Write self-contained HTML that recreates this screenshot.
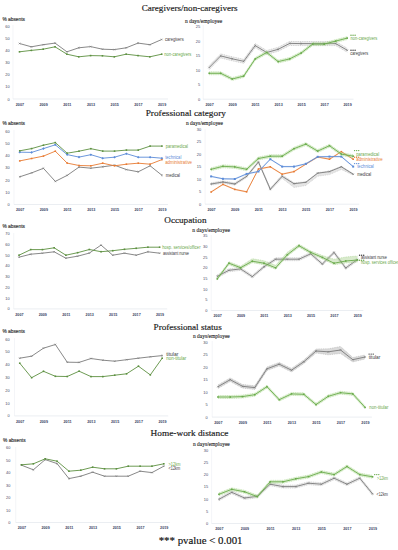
<!DOCTYPE html>
<html><head><meta charset="utf-8"><title>Absenteeism trends</title>
<style>html,body{margin:0;padding:0;background:#fff;width:398px;height:550px;overflow:hidden}svg{display:block}</style>
</head><body>
<svg width="398" height="550" viewBox="0 0 398 550">
<rect width="398" height="550" fill="#fff"/>
<text x="141.7" y="7.7" font-family="Liberation Serif" font-size="8.65" fill="#1a1a1a" stroke="#1a1a1a" stroke-width="0.16" dominant-baseline="central" textLength="95.9" lengthAdjust="spacingAndGlyphs">Caregivers/non-caregivers</text>
<text x="145.7" y="113.4" font-family="Liberation Serif" font-size="8.65" fill="#1a1a1a" stroke="#1a1a1a" stroke-width="0.16" dominant-baseline="central" textLength="80.2" lengthAdjust="spacingAndGlyphs">Professional category</text>
<text x="164.3" y="220.3" font-family="Liberation Serif" font-size="8.65" fill="#1a1a1a" stroke="#1a1a1a" stroke-width="0.16" dominant-baseline="central" textLength="42.2" lengthAdjust="spacingAndGlyphs">Occupation</text>
<text x="153.6" y="326.7" font-family="Liberation Serif" font-size="8.65" fill="#1a1a1a" stroke="#1a1a1a" stroke-width="0.16" dominant-baseline="central" textLength="68.1" lengthAdjust="spacingAndGlyphs">Professional status</text>
<text x="150.6" y="433.2" font-family="Liberation Serif" font-size="8.65" fill="#1a1a1a" stroke="#1a1a1a" stroke-width="0.16" dominant-baseline="central" textLength="77.8" lengthAdjust="spacingAndGlyphs">Home-work distance</text>
<line x1="13" y1="25" x2="13" y2="99" stroke="#eceef3" stroke-width="0.6"/>
<line x1="13" y1="99" x2="168" y2="99" stroke="#e3e6ec" stroke-width="0.7"/>
<text x="9.6" y="99" font-family="Liberation Sans" font-size="3.9" font-weight="normal" font-style="normal" fill="#3f4862" text-anchor="end" dominant-baseline="central">0</text>
<text x="9.6" y="86.95" font-family="Liberation Sans" font-size="3.9" font-weight="normal" font-style="normal" fill="#3f4862" text-anchor="end" dominant-baseline="central">10</text>
<text x="9.6" y="74.9" font-family="Liberation Sans" font-size="3.9" font-weight="normal" font-style="normal" fill="#3f4862" text-anchor="end" dominant-baseline="central">20</text>
<text x="9.6" y="62.85" font-family="Liberation Sans" font-size="3.9" font-weight="normal" font-style="normal" fill="#3f4862" text-anchor="end" dominant-baseline="central">30</text>
<text x="9.6" y="50.8" font-family="Liberation Sans" font-size="3.9" font-weight="normal" font-style="normal" fill="#3f4862" text-anchor="end" dominant-baseline="central">40</text>
<text x="9.6" y="38.75" font-family="Liberation Sans" font-size="3.9" font-weight="normal" font-style="normal" fill="#3f4862" text-anchor="end" dominant-baseline="central">50</text>
<text x="9.6" y="26.7" font-family="Liberation Sans" font-size="3.9" font-weight="normal" font-style="normal" fill="#3f4862" text-anchor="end" dominant-baseline="central">60</text>
<text x="15.8" y="104.6" font-family="Liberation Sans" font-size="3.7" font-weight="bold" fill="#35405e" dominant-baseline="central" textLength="8.2" lengthAdjust="spacingAndGlyphs">2007</text>
<text x="39.5" y="104.6" font-family="Liberation Sans" font-size="3.7" font-weight="bold" fill="#35405e" dominant-baseline="central" textLength="8.2" lengthAdjust="spacingAndGlyphs">2009</text>
<text x="63.2" y="104.6" font-family="Liberation Sans" font-size="3.7" font-weight="bold" fill="#35405e" dominant-baseline="central" textLength="8.2" lengthAdjust="spacingAndGlyphs">2011</text>
<text x="86.9" y="104.6" font-family="Liberation Sans" font-size="3.7" font-weight="bold" fill="#35405e" dominant-baseline="central" textLength="8.2" lengthAdjust="spacingAndGlyphs">2013</text>
<text x="110.6" y="104.6" font-family="Liberation Sans" font-size="3.7" font-weight="bold" fill="#35405e" dominant-baseline="central" textLength="8.2" lengthAdjust="spacingAndGlyphs">2015</text>
<text x="134.3" y="104.6" font-family="Liberation Sans" font-size="3.7" font-weight="bold" fill="#35405e" dominant-baseline="central" textLength="8.2" lengthAdjust="spacingAndGlyphs">2017</text>
<text x="158" y="104.6" font-family="Liberation Sans" font-size="3.7" font-weight="bold" fill="#35405e" dominant-baseline="central" textLength="8.2" lengthAdjust="spacingAndGlyphs">2019</text>
<text x="2.4" y="19" font-family="Liberation Sans" font-size="4.9" fill="#333" stroke="#333" stroke-width="0.15" dominant-baseline="central" textLength="22.6" lengthAdjust="spacingAndGlyphs">% absents</text>
<polyline points="19.5,43.5 31.35,46.8 43.2,44.7 55.05,43.1 66.9,51.8 78.75,47.8 90.6,46.6 102.45,49.2 114.3,49.6 126.15,47.8 138,43.1 149.85,44.7 161.7,39.5" fill="none" stroke="#7a7a7a" stroke-width="0.9" stroke-linejoin="round" opacity="1.0"/>
<path d="M18.7,42.7L20.3,44.3M18.7,44.3L20.3,42.7" stroke="#7a7a7a" stroke-width="0.6"/>
<path d="M30.55,46L32.15,47.6M30.55,47.6L32.15,46" stroke="#7a7a7a" stroke-width="0.6"/>
<path d="M42.4,43.9L44,45.5M42.4,45.5L44,43.9" stroke="#7a7a7a" stroke-width="0.6"/>
<path d="M54.25,42.3L55.85,43.9M54.25,43.9L55.85,42.3" stroke="#7a7a7a" stroke-width="0.6"/>
<path d="M66.1,51L67.7,52.6M66.1,52.6L67.7,51" stroke="#7a7a7a" stroke-width="0.6"/>
<path d="M77.95,47L79.55,48.6M77.95,48.6L79.55,47" stroke="#7a7a7a" stroke-width="0.6"/>
<path d="M89.8,45.8L91.4,47.4M89.8,47.4L91.4,45.8" stroke="#7a7a7a" stroke-width="0.6"/>
<path d="M101.65,48.4L103.25,50M101.65,50L103.25,48.4" stroke="#7a7a7a" stroke-width="0.6"/>
<path d="M113.5,48.8L115.1,50.4M113.5,50.4L115.1,48.8" stroke="#7a7a7a" stroke-width="0.6"/>
<path d="M125.35,47L126.95,48.6M125.35,48.6L126.95,47" stroke="#7a7a7a" stroke-width="0.6"/>
<path d="M137.2,42.3L138.8,43.9M137.2,43.9L138.8,42.3" stroke="#7a7a7a" stroke-width="0.6"/>
<path d="M149.05,43.9L150.65,45.5M149.05,45.5L150.65,43.9" stroke="#7a7a7a" stroke-width="0.6"/>
<path d="M160.9,38.7L162.5,40.3M160.9,40.3L162.5,38.7" stroke="#7a7a7a" stroke-width="0.6"/>
<polyline points="19.5,51.8 31.35,50.4 43.2,49.2 55.05,46.8 66.9,54.2 78.75,56.8 90.6,55.6 102.45,55.8 114.3,56.8 126.15,54.2 138,55.6 149.85,56.8 161.7,54.2" fill="none" stroke="#5c9040" stroke-width="0.9" stroke-linejoin="round" opacity="1.0"/>
<rect x="18.7" y="51" width="1.6" height="1.6" fill="#5c9040"/>
<rect x="30.55" y="49.6" width="1.6" height="1.6" fill="#5c9040"/>
<rect x="42.4" y="48.4" width="1.6" height="1.6" fill="#5c9040"/>
<rect x="54.25" y="46" width="1.6" height="1.6" fill="#5c9040"/>
<rect x="66.1" y="53.4" width="1.6" height="1.6" fill="#5c9040"/>
<rect x="77.95" y="56" width="1.6" height="1.6" fill="#5c9040"/>
<rect x="89.8" y="54.8" width="1.6" height="1.6" fill="#5c9040"/>
<rect x="101.65" y="55" width="1.6" height="1.6" fill="#5c9040"/>
<rect x="113.5" y="56" width="1.6" height="1.6" fill="#5c9040"/>
<rect x="125.35" y="53.4" width="1.6" height="1.6" fill="#5c9040"/>
<rect x="137.2" y="54.8" width="1.6" height="1.6" fill="#5c9040"/>
<rect x="149.05" y="56" width="1.6" height="1.6" fill="#5c9040"/>
<rect x="160.9" y="53.4" width="1.6" height="1.6" fill="#5c9040"/>
<text x="165.1" y="39.4" font-family="Liberation Sans" font-size="4.5" fill="#3a3a3a" dominant-baseline="central" textLength="18.6" lengthAdjust="spacingAndGlyphs">caregivers</text>
<text x="164.2" y="54.6" font-family="Liberation Sans" font-size="4.5" fill="#6aa84a" dominant-baseline="central" textLength="27.2" lengthAdjust="spacingAndGlyphs">non-caregivers</text>
<line x1="203.2" y1="25" x2="203.2" y2="99.2" stroke="#eceef3" stroke-width="0.6"/>
<line x1="203.2" y1="99.2" x2="353.5" y2="99.2" stroke="#e3e6ec" stroke-width="0.7"/>
<text x="200.2" y="99.2" font-family="Liberation Sans" font-size="3.9" font-weight="normal" font-style="normal" fill="#3f4862" text-anchor="end" dominant-baseline="central">0</text>
<text x="200.2" y="84.7" font-family="Liberation Sans" font-size="3.9" font-weight="normal" font-style="normal" fill="#3f4862" text-anchor="end" dominant-baseline="central">5</text>
<text x="200.2" y="70.2" font-family="Liberation Sans" font-size="3.9" font-weight="normal" font-style="normal" fill="#3f4862" text-anchor="end" dominant-baseline="central">10</text>
<text x="200.2" y="55.7" font-family="Liberation Sans" font-size="3.9" font-weight="normal" font-style="normal" fill="#3f4862" text-anchor="end" dominant-baseline="central">15</text>
<text x="200.2" y="41.2" font-family="Liberation Sans" font-size="3.9" font-weight="normal" font-style="normal" fill="#3f4862" text-anchor="end" dominant-baseline="central">20</text>
<text x="200.2" y="26.7" font-family="Liberation Sans" font-size="3.9" font-weight="normal" font-style="normal" fill="#3f4862" text-anchor="end" dominant-baseline="central">25</text>
<text x="205.5" y="104.6" font-family="Liberation Sans" font-size="3.7" font-weight="bold" fill="#35405e" dominant-baseline="central" textLength="8.2" lengthAdjust="spacingAndGlyphs">2007</text>
<text x="228.5" y="104.6" font-family="Liberation Sans" font-size="3.7" font-weight="bold" fill="#35405e" dominant-baseline="central" textLength="8.2" lengthAdjust="spacingAndGlyphs">2009</text>
<text x="251.5" y="104.6" font-family="Liberation Sans" font-size="3.7" font-weight="bold" fill="#35405e" dominant-baseline="central" textLength="8.2" lengthAdjust="spacingAndGlyphs">2011</text>
<text x="274.5" y="104.6" font-family="Liberation Sans" font-size="3.7" font-weight="bold" fill="#35405e" dominant-baseline="central" textLength="8.2" lengthAdjust="spacingAndGlyphs">2013</text>
<text x="297.5" y="104.6" font-family="Liberation Sans" font-size="3.7" font-weight="bold" fill="#35405e" dominant-baseline="central" textLength="8.2" lengthAdjust="spacingAndGlyphs">2015</text>
<text x="320.5" y="104.6" font-family="Liberation Sans" font-size="3.7" font-weight="bold" fill="#35405e" dominant-baseline="central" textLength="8.2" lengthAdjust="spacingAndGlyphs">2017</text>
<text x="343.5" y="104.6" font-family="Liberation Sans" font-size="3.7" font-weight="bold" fill="#35405e" dominant-baseline="central" textLength="8.2" lengthAdjust="spacingAndGlyphs">2019</text>
<text x="185" y="21" font-family="Liberation Serif" font-size="5.5" fill="#2a2a2a" stroke="#2a2a2a" stroke-width="0.12" dominant-baseline="central" textLength="37.2" lengthAdjust="spacingAndGlyphs">n days/employee</text>
<polygon points="209.2,65.5 220.7,53.9 232.2,56.8 243.7,59.3 255.2,43.6 266.7,50.5 278.2,47.3 289.7,41.4 301.2,41.6 312.7,41.6 324.2,41.6 335.7,41.6 347.2,48.2 347.2,52.2 335.7,45.6 324.2,45.6 312.7,45.6 301.2,45.6 289.7,45.4 278.2,51.3 266.7,54.5 255.2,47.6 243.7,63.3 232.2,60.8 220.7,57.9 209.2,69.5" fill="#b0b0b0" fill-opacity="0.25" stroke="none"/>
<polyline points="209.2,65.5 220.7,53.9 232.2,56.8 243.7,59.3 255.2,43.6 266.7,50.5 278.2,47.3 289.7,41.4 301.2,41.6 312.7,41.6 324.2,41.6 335.7,41.6 347.2,48.2" fill="none" stroke="#a8a8a8" stroke-width="0.5" stroke-linejoin="round" opacity="1.0" stroke-dasharray="1,0.8"/>
<polyline points="209.2,69.5 220.7,57.9 232.2,60.8 243.7,63.3 255.2,47.6 266.7,54.5 278.2,51.3 289.7,45.4 301.2,45.6 312.7,45.6 324.2,45.6 335.7,45.6 347.2,52.2" fill="none" stroke="#a8a8a8" stroke-width="0.5" stroke-linejoin="round" opacity="1.0" stroke-dasharray="1,0.8"/>
<polyline points="209.2,67.5 220.7,55.9 232.2,58.8 243.7,61.3 255.2,45.6 266.7,52.5 278.2,49.3 289.7,43.4 301.2,43.6 312.7,43.6 324.2,43.6 335.7,43.6 347.2,50.2" fill="none" stroke="#7a7a7a" stroke-width="0.9" stroke-linejoin="round" opacity="1.0"/>
<path d="M208.4,66.7L210,68.3M208.4,68.3L210,66.7" stroke="#7a7a7a" stroke-width="0.6"/>
<path d="M219.9,55.1L221.5,56.7M219.9,56.7L221.5,55.1" stroke="#7a7a7a" stroke-width="0.6"/>
<path d="M231.4,58L233,59.6M231.4,59.6L233,58" stroke="#7a7a7a" stroke-width="0.6"/>
<path d="M242.9,60.5L244.5,62.1M242.9,62.1L244.5,60.5" stroke="#7a7a7a" stroke-width="0.6"/>
<path d="M254.4,44.8L256,46.4M254.4,46.4L256,44.8" stroke="#7a7a7a" stroke-width="0.6"/>
<path d="M265.9,51.7L267.5,53.3M265.9,53.3L267.5,51.7" stroke="#7a7a7a" stroke-width="0.6"/>
<path d="M277.4,48.5L279,50.1M277.4,50.1L279,48.5" stroke="#7a7a7a" stroke-width="0.6"/>
<path d="M288.9,42.6L290.5,44.2M288.9,44.2L290.5,42.6" stroke="#7a7a7a" stroke-width="0.6"/>
<path d="M300.4,42.8L302,44.4M300.4,44.4L302,42.8" stroke="#7a7a7a" stroke-width="0.6"/>
<path d="M311.9,42.8L313.5,44.4M311.9,44.4L313.5,42.8" stroke="#7a7a7a" stroke-width="0.6"/>
<path d="M323.4,42.8L325,44.4M323.4,44.4L325,42.8" stroke="#7a7a7a" stroke-width="0.6"/>
<path d="M334.9,42.8L336.5,44.4M334.9,44.4L336.5,42.8" stroke="#7a7a7a" stroke-width="0.6"/>
<path d="M346.4,49.4L348,51M346.4,51L348,49.4" stroke="#7a7a7a" stroke-width="0.6"/>
<polygon points="209.2,71.8 220.7,71.8 232.2,77.5 243.7,74.6 255.2,57.4 266.7,51 278.2,60.1 289.7,57.4 301.2,51.5 312.7,42.6 324.2,42.6 335.7,39.6 347.2,36.6 347.2,39.6 335.7,42.6 324.2,45.6 312.7,45.6 301.2,54.5 289.7,60.4 278.2,63.1 266.7,54 255.2,60.4 243.7,77.6 232.2,80.5 220.7,74.8 209.2,74.8" fill="#9fd07f" fill-opacity="0.35" stroke="none"/>
<polyline points="209.2,71.8 220.7,71.8 232.2,77.5 243.7,74.6 255.2,57.4 266.7,51 278.2,60.1 289.7,57.4 301.2,51.5 312.7,42.6 324.2,42.6 335.7,39.6 347.2,36.6" fill="none" stroke="#a8d48e" stroke-width="0.5" stroke-linejoin="round" opacity="1.0" stroke-dasharray="1,0.8"/>
<polyline points="209.2,74.8 220.7,74.8 232.2,80.5 243.7,77.6 255.2,60.4 266.7,54 278.2,63.1 289.7,60.4 301.2,54.5 312.7,45.6 324.2,45.6 335.7,42.6 347.2,39.6" fill="none" stroke="#a8d48e" stroke-width="0.5" stroke-linejoin="round" opacity="1.0" stroke-dasharray="1,0.8"/>
<polyline points="209.2,73.3 220.7,73.3 232.2,79 243.7,76.1 255.2,58.9 266.7,52.5 278.2,61.6 289.7,58.9 301.2,53 312.7,44.1 324.2,44.1 335.7,41.1 347.2,38.1" fill="none" stroke="#69aa4b" stroke-width="0.9" stroke-linejoin="round" opacity="1.0"/>
<rect x="208.4" y="72.5" width="1.6" height="1.6" fill="#69aa4b"/>
<rect x="219.9" y="72.5" width="1.6" height="1.6" fill="#69aa4b"/>
<rect x="231.4" y="78.2" width="1.6" height="1.6" fill="#69aa4b"/>
<rect x="242.9" y="75.3" width="1.6" height="1.6" fill="#69aa4b"/>
<rect x="254.4" y="58.1" width="1.6" height="1.6" fill="#69aa4b"/>
<rect x="265.9" y="51.7" width="1.6" height="1.6" fill="#69aa4b"/>
<rect x="277.4" y="60.8" width="1.6" height="1.6" fill="#69aa4b"/>
<rect x="288.9" y="58.1" width="1.6" height="1.6" fill="#69aa4b"/>
<rect x="300.4" y="52.2" width="1.6" height="1.6" fill="#69aa4b"/>
<rect x="311.9" y="43.3" width="1.6" height="1.6" fill="#69aa4b"/>
<rect x="323.4" y="43.3" width="1.6" height="1.6" fill="#69aa4b"/>
<rect x="334.9" y="40.3" width="1.6" height="1.6" fill="#69aa4b"/>
<rect x="346.4" y="37.3" width="1.6" height="1.6" fill="#69aa4b"/>
<circle cx="351" cy="35.3" r="0.72" fill="#6aa84a"/>
<circle cx="353.05" cy="35.3" r="0.72" fill="#6aa84a"/>
<circle cx="355.1" cy="35.3" r="0.72" fill="#6aa84a"/>
<text x="350.6" y="38.6" font-family="Liberation Sans" font-size="4.5" fill="#6aa84a" dominant-baseline="central" textLength="26.7" lengthAdjust="spacingAndGlyphs">non-caregivers</text>
<circle cx="351" cy="50.3" r="0.72" fill="#3a3a3a"/>
<circle cx="353.05" cy="50.3" r="0.72" fill="#3a3a3a"/>
<circle cx="355.1" cy="50.3" r="0.72" fill="#3a3a3a"/>
<text x="350.2" y="53.3" font-family="Liberation Sans" font-size="4.5" fill="#3a3a3a" dominant-baseline="central" textLength="18.1" lengthAdjust="spacingAndGlyphs">caregivers</text>
<line x1="14" y1="130" x2="14" y2="204.5" stroke="#eceef3" stroke-width="0.6"/>
<line x1="14" y1="204.5" x2="168" y2="204.5" stroke="#e3e6ec" stroke-width="0.7"/>
<text x="9.6" y="204.5" font-family="Liberation Sans" font-size="3.9" font-weight="normal" font-style="normal" fill="#3f4862" text-anchor="end" dominant-baseline="central">0</text>
<text x="9.6" y="192.33" font-family="Liberation Sans" font-size="3.9" font-weight="normal" font-style="normal" fill="#3f4862" text-anchor="end" dominant-baseline="central">10</text>
<text x="9.6" y="180.16" font-family="Liberation Sans" font-size="3.9" font-weight="normal" font-style="normal" fill="#3f4862" text-anchor="end" dominant-baseline="central">20</text>
<text x="9.6" y="167.99" font-family="Liberation Sans" font-size="3.9" font-weight="normal" font-style="normal" fill="#3f4862" text-anchor="end" dominant-baseline="central">30</text>
<text x="9.6" y="155.82" font-family="Liberation Sans" font-size="3.9" font-weight="normal" font-style="normal" fill="#3f4862" text-anchor="end" dominant-baseline="central">40</text>
<text x="9.6" y="143.65" font-family="Liberation Sans" font-size="3.9" font-weight="normal" font-style="normal" fill="#3f4862" text-anchor="end" dominant-baseline="central">50</text>
<text x="9.6" y="131.48" font-family="Liberation Sans" font-size="3.9" font-weight="normal" font-style="normal" fill="#3f4862" text-anchor="end" dominant-baseline="central">60</text>
<text x="16.05" y="209.9" font-family="Liberation Sans" font-size="3.7" font-weight="bold" fill="#35405e" dominant-baseline="central" textLength="8.2" lengthAdjust="spacingAndGlyphs">2007</text>
<text x="39.75" y="209.9" font-family="Liberation Sans" font-size="3.7" font-weight="bold" fill="#35405e" dominant-baseline="central" textLength="8.2" lengthAdjust="spacingAndGlyphs">2009</text>
<text x="63.45" y="209.9" font-family="Liberation Sans" font-size="3.7" font-weight="bold" fill="#35405e" dominant-baseline="central" textLength="8.2" lengthAdjust="spacingAndGlyphs">2011</text>
<text x="87.15" y="209.9" font-family="Liberation Sans" font-size="3.7" font-weight="bold" fill="#35405e" dominant-baseline="central" textLength="8.2" lengthAdjust="spacingAndGlyphs">2013</text>
<text x="110.85" y="209.9" font-family="Liberation Sans" font-size="3.7" font-weight="bold" fill="#35405e" dominant-baseline="central" textLength="8.2" lengthAdjust="spacingAndGlyphs">2015</text>
<text x="134.55" y="209.9" font-family="Liberation Sans" font-size="3.7" font-weight="bold" fill="#35405e" dominant-baseline="central" textLength="8.2" lengthAdjust="spacingAndGlyphs">2017</text>
<text x="158.25" y="209.9" font-family="Liberation Sans" font-size="3.7" font-weight="bold" fill="#35405e" dominant-baseline="central" textLength="8.2" lengthAdjust="spacingAndGlyphs">2019</text>
<text x="2.4" y="123.1" font-family="Liberation Sans" font-size="4.9" fill="#333" stroke="#333" stroke-width="0.15" dominant-baseline="central" textLength="22.6" lengthAdjust="spacingAndGlyphs">% absents</text>
<polyline points="19.75,176.8 31.6,172.9 43.45,168.3 55.3,181.4 67.15,175.4 79,167.1 90.85,168.2 102.7,166.8 114.55,165.2 126.4,169.6 138.25,171.8 150.1,165.8 161.95,175.3" fill="none" stroke="#7a7a7a" stroke-width="0.9" stroke-linejoin="round" opacity="1.0"/>
<path d="M18.95,176L20.55,177.6M18.95,177.6L20.55,176" stroke="#7a7a7a" stroke-width="0.6"/>
<path d="M30.8,172.1L32.4,173.7M30.8,173.7L32.4,172.1" stroke="#7a7a7a" stroke-width="0.6"/>
<path d="M42.65,167.5L44.25,169.1M42.65,169.1L44.25,167.5" stroke="#7a7a7a" stroke-width="0.6"/>
<path d="M54.5,180.6L56.1,182.2M54.5,182.2L56.1,180.6" stroke="#7a7a7a" stroke-width="0.6"/>
<path d="M66.35,174.6L67.95,176.2M66.35,176.2L67.95,174.6" stroke="#7a7a7a" stroke-width="0.6"/>
<path d="M78.2,166.3L79.8,167.9M78.2,167.9L79.8,166.3" stroke="#7a7a7a" stroke-width="0.6"/>
<path d="M90.05,167.4L91.65,169M90.05,169L91.65,167.4" stroke="#7a7a7a" stroke-width="0.6"/>
<path d="M101.9,166L103.5,167.6M101.9,167.6L103.5,166" stroke="#7a7a7a" stroke-width="0.6"/>
<path d="M113.75,164.4L115.35,166M113.75,166L115.35,164.4" stroke="#7a7a7a" stroke-width="0.6"/>
<path d="M125.6,168.8L127.2,170.4M125.6,170.4L127.2,168.8" stroke="#7a7a7a" stroke-width="0.6"/>
<path d="M137.45,171L139.05,172.6M137.45,172.6L139.05,171" stroke="#7a7a7a" stroke-width="0.6"/>
<path d="M149.3,165L150.9,166.6M149.3,166.6L150.9,165" stroke="#7a7a7a" stroke-width="0.6"/>
<path d="M161.15,174.5L162.75,176.1M161.15,176.1L162.75,174.5" stroke="#7a7a7a" stroke-width="0.6"/>
<polyline points="19.75,160.9 31.6,158.5 43.45,156.1 55.3,151.2 67.15,163.1 79,165.5 90.85,165.8 102.7,163.2 114.55,165.8 126.4,164.2 138.25,163.2 150.1,164.2 161.95,159.6" fill="none" stroke="#e87a32" stroke-width="0.9" stroke-linejoin="round" opacity="1.0"/>
<rect x="18.95" y="160.1" width="1.6" height="1.6" fill="#e87a32"/>
<rect x="30.8" y="157.7" width="1.6" height="1.6" fill="#e87a32"/>
<rect x="42.65" y="155.3" width="1.6" height="1.6" fill="#e87a32"/>
<rect x="54.5" y="150.4" width="1.6" height="1.6" fill="#e87a32"/>
<rect x="66.35" y="162.3" width="1.6" height="1.6" fill="#e87a32"/>
<rect x="78.2" y="164.7" width="1.6" height="1.6" fill="#e87a32"/>
<rect x="90.05" y="165" width="1.6" height="1.6" fill="#e87a32"/>
<rect x="101.9" y="162.4" width="1.6" height="1.6" fill="#e87a32"/>
<rect x="113.75" y="165" width="1.6" height="1.6" fill="#e87a32"/>
<rect x="125.6" y="163.4" width="1.6" height="1.6" fill="#e87a32"/>
<rect x="137.45" y="162.4" width="1.6" height="1.6" fill="#e87a32"/>
<rect x="149.3" y="163.4" width="1.6" height="1.6" fill="#e87a32"/>
<rect x="161.15" y="158.8" width="1.6" height="1.6" fill="#e87a32"/>
<polyline points="19.75,152.2 31.6,152.4 43.45,148.6 55.3,144.8 67.15,154.6 79,157.1 90.85,154.7 102.7,158.2 114.55,157.2 126.4,153.7 138.25,157.2 150.1,157.2 161.95,158.2" fill="none" stroke="#5b8bd8" stroke-width="0.9" stroke-linejoin="round" opacity="1.0"/>
<polygon points="19.75,150.9 21.05,152.2 19.75,153.5 18.45,152.2" fill="#5b8bd8"/>
<polygon points="31.6,151.1 32.9,152.4 31.6,153.7 30.3,152.4" fill="#5b8bd8"/>
<polygon points="43.45,147.3 44.75,148.6 43.45,149.9 42.15,148.6" fill="#5b8bd8"/>
<polygon points="55.3,143.5 56.6,144.8 55.3,146.1 54,144.8" fill="#5b8bd8"/>
<polygon points="67.15,153.3 68.45,154.6 67.15,155.9 65.85,154.6" fill="#5b8bd8"/>
<polygon points="79,155.8 80.3,157.1 79,158.4 77.7,157.1" fill="#5b8bd8"/>
<polygon points="90.85,153.4 92.15,154.7 90.85,156 89.55,154.7" fill="#5b8bd8"/>
<polygon points="102.7,156.9 104,158.2 102.7,159.5 101.4,158.2" fill="#5b8bd8"/>
<polygon points="114.55,155.9 115.85,157.2 114.55,158.5 113.25,157.2" fill="#5b8bd8"/>
<polygon points="126.4,152.4 127.7,153.7 126.4,155 125.1,153.7" fill="#5b8bd8"/>
<polygon points="138.25,155.9 139.55,157.2 138.25,158.5 136.95,157.2" fill="#5b8bd8"/>
<polygon points="150.1,155.9 151.4,157.2 150.1,158.5 148.8,157.2" fill="#5b8bd8"/>
<polygon points="161.95,156.9 163.25,158.2 161.95,159.5 160.65,158.2" fill="#5b8bd8"/>
<polyline points="19.75,150.8 31.6,148.6 43.45,145.2 55.3,142.6 67.15,153.2 79,151.2 90.85,148.7 102.7,151.1 114.55,151.1 126.4,150.1 138.25,150.1 150.1,146.1 161.95,146.1" fill="none" stroke="#5c9040" stroke-width="0.9" stroke-linejoin="round" opacity="1.0"/>
<rect x="18.95" y="150" width="1.6" height="1.6" fill="#5c9040"/>
<rect x="30.8" y="147.8" width="1.6" height="1.6" fill="#5c9040"/>
<rect x="42.65" y="144.4" width="1.6" height="1.6" fill="#5c9040"/>
<rect x="54.5" y="141.8" width="1.6" height="1.6" fill="#5c9040"/>
<rect x="66.35" y="152.4" width="1.6" height="1.6" fill="#5c9040"/>
<rect x="78.2" y="150.4" width="1.6" height="1.6" fill="#5c9040"/>
<rect x="90.05" y="147.9" width="1.6" height="1.6" fill="#5c9040"/>
<rect x="101.9" y="150.3" width="1.6" height="1.6" fill="#5c9040"/>
<rect x="113.75" y="150.3" width="1.6" height="1.6" fill="#5c9040"/>
<rect x="125.6" y="149.3" width="1.6" height="1.6" fill="#5c9040"/>
<rect x="137.45" y="149.3" width="1.6" height="1.6" fill="#5c9040"/>
<rect x="149.3" y="145.3" width="1.6" height="1.6" fill="#5c9040"/>
<rect x="161.15" y="145.3" width="1.6" height="1.6" fill="#5c9040"/>
<text x="165.8" y="146.1" font-family="Liberation Sans" font-size="4.5" fill="#6aa84a" dominant-baseline="central" textLength="22.2" lengthAdjust="spacingAndGlyphs">paramedical</text>
<text x="165.2" y="157.6" font-family="Liberation Sans" font-size="4.5" fill="#5b8bd8" dominant-baseline="central" textLength="16.1" lengthAdjust="spacingAndGlyphs">technical</text>
<text x="165.2" y="162.2" font-family="Liberation Sans" font-size="4.5" fill="#e87a32" dominant-baseline="central" textLength="26.8" lengthAdjust="spacingAndGlyphs">administrative</text>
<text x="165.8" y="175.3" font-family="Liberation Sans" font-size="4.5" fill="#3a3a3a" dominant-baseline="central" textLength="14.1" lengthAdjust="spacingAndGlyphs">medical</text>
<line x1="205.1" y1="129" x2="205.1" y2="204.2" stroke="#eceef3" stroke-width="0.6"/>
<line x1="205.1" y1="204.2" x2="359.2" y2="204.2" stroke="#e3e6ec" stroke-width="0.7"/>
<text x="201.2" y="204.2" font-family="Liberation Sans" font-size="3.9" font-weight="normal" font-style="normal" fill="#3f4862" text-anchor="end" dominant-baseline="central">0</text>
<text x="201.2" y="191.7" font-family="Liberation Sans" font-size="3.9" font-weight="normal" font-style="normal" fill="#3f4862" text-anchor="end" dominant-baseline="central">5</text>
<text x="201.2" y="179.2" font-family="Liberation Sans" font-size="3.9" font-weight="normal" font-style="normal" fill="#3f4862" text-anchor="end" dominant-baseline="central">10</text>
<text x="201.2" y="166.7" font-family="Liberation Sans" font-size="3.9" font-weight="normal" font-style="normal" fill="#3f4862" text-anchor="end" dominant-baseline="central">15</text>
<text x="201.2" y="154.2" font-family="Liberation Sans" font-size="3.9" font-weight="normal" font-style="normal" fill="#3f4862" text-anchor="end" dominant-baseline="central">20</text>
<text x="201.2" y="141.7" font-family="Liberation Sans" font-size="3.9" font-weight="normal" font-style="normal" fill="#3f4862" text-anchor="end" dominant-baseline="central">25</text>
<text x="201.2" y="129.2" font-family="Liberation Sans" font-size="3.9" font-weight="normal" font-style="normal" fill="#3f4862" text-anchor="end" dominant-baseline="central">30</text>
<text x="207.4" y="209.9" font-family="Liberation Sans" font-size="3.7" font-weight="bold" fill="#35405e" dominant-baseline="central" textLength="8.2" lengthAdjust="spacingAndGlyphs">2007</text>
<text x="231.08" y="209.9" font-family="Liberation Sans" font-size="3.7" font-weight="bold" fill="#35405e" dominant-baseline="central" textLength="8.2" lengthAdjust="spacingAndGlyphs">2009</text>
<text x="254.76" y="209.9" font-family="Liberation Sans" font-size="3.7" font-weight="bold" fill="#35405e" dominant-baseline="central" textLength="8.2" lengthAdjust="spacingAndGlyphs">2011</text>
<text x="278.44" y="209.9" font-family="Liberation Sans" font-size="3.7" font-weight="bold" fill="#35405e" dominant-baseline="central" textLength="8.2" lengthAdjust="spacingAndGlyphs">2013</text>
<text x="302.12" y="209.9" font-family="Liberation Sans" font-size="3.7" font-weight="bold" fill="#35405e" dominant-baseline="central" textLength="8.2" lengthAdjust="spacingAndGlyphs">2015</text>
<text x="325.8" y="209.9" font-family="Liberation Sans" font-size="3.7" font-weight="bold" fill="#35405e" dominant-baseline="central" textLength="8.2" lengthAdjust="spacingAndGlyphs">2017</text>
<text x="349.48" y="209.9" font-family="Liberation Sans" font-size="3.7" font-weight="bold" fill="#35405e" dominant-baseline="central" textLength="8.2" lengthAdjust="spacingAndGlyphs">2019</text>
<text x="186" y="123.4" font-family="Liberation Serif" font-size="5.5" fill="#2a2a2a" stroke="#2a2a2a" stroke-width="0.12" dominant-baseline="central" textLength="37" lengthAdjust="spacingAndGlyphs">n days/employee</text>
<polygon points="211.1,182.8 222.94,180.8 234.78,182.8 246.62,175.2 258.46,160.8 270.3,188.1 282.14,174.8 293.98,182.7 305.82,181.7 317.66,172.6 329.5,171 341.34,166.2 353.18,173.6 353.18,175.2 341.34,169.4 329.5,174.6 317.66,176.2 305.82,185.5 293.98,187.5 282.14,178.3 270.3,190.5 258.46,163.2 246.62,177.6 234.78,185.2 222.94,183.2 211.1,185.2" fill="#a8a8a8" fill-opacity="0.3" stroke="none"/>
<polyline points="211.1,182.8 222.94,180.8 234.78,182.8 246.62,175.2 258.46,160.8 270.3,188.1 282.14,174.8 293.98,182.7 305.82,181.7 317.66,172.6 329.5,171 341.34,166.2 353.18,173.6" fill="none" stroke="#b8b8b8" stroke-width="0.5" stroke-linejoin="round" opacity="1.0" stroke-dasharray="1,0.8"/>
<polyline points="211.1,185.2 222.94,183.2 234.78,185.2 246.62,177.6 258.46,163.2 270.3,190.5 282.14,178.3 293.98,187.5 305.82,185.5 317.66,176.2 329.5,174.6 341.34,169.4 353.18,175.2" fill="none" stroke="#b8b8b8" stroke-width="0.5" stroke-linejoin="round" opacity="1.0" stroke-dasharray="1,0.8"/>
<polyline points="211.1,184 222.94,182 234.78,184 246.62,176.4 258.46,162 270.3,189.3 282.14,176.3 293.98,183.7 305.82,182.3 317.66,173.2 329.5,171.6 341.34,166.8 353.18,174.2" fill="none" stroke="#7a7a7a" stroke-width="0.9" stroke-linejoin="round" opacity="1.0"/>
<path d="M210.3,183.2L211.9,184.8M210.3,184.8L211.9,183.2" stroke="#7a7a7a" stroke-width="0.6"/>
<path d="M222.14,181.2L223.74,182.8M222.14,182.8L223.74,181.2" stroke="#7a7a7a" stroke-width="0.6"/>
<path d="M233.98,183.2L235.58,184.8M233.98,184.8L235.58,183.2" stroke="#7a7a7a" stroke-width="0.6"/>
<path d="M245.82,175.6L247.42,177.2M245.82,177.2L247.42,175.6" stroke="#7a7a7a" stroke-width="0.6"/>
<path d="M257.66,161.2L259.26,162.8M257.66,162.8L259.26,161.2" stroke="#7a7a7a" stroke-width="0.6"/>
<path d="M269.5,188.5L271.1,190.1M269.5,190.1L271.1,188.5" stroke="#7a7a7a" stroke-width="0.6"/>
<path d="M281.34,175.5L282.94,177.1M281.34,177.1L282.94,175.5" stroke="#7a7a7a" stroke-width="0.6"/>
<path d="M293.18,182.9L294.78,184.5M293.18,184.5L294.78,182.9" stroke="#7a7a7a" stroke-width="0.6"/>
<path d="M305.02,181.5L306.62,183.1M305.02,183.1L306.62,181.5" stroke="#7a7a7a" stroke-width="0.6"/>
<path d="M316.86,172.4L318.46,174M316.86,174L318.46,172.4" stroke="#7a7a7a" stroke-width="0.6"/>
<path d="M328.7,170.8L330.3,172.4M328.7,172.4L330.3,170.8" stroke="#7a7a7a" stroke-width="0.6"/>
<path d="M340.54,166L342.14,167.6M340.54,167.6L342.14,166" stroke="#7a7a7a" stroke-width="0.6"/>
<path d="M352.38,173.4L353.98,175M352.38,175L353.98,173.4" stroke="#7a7a7a" stroke-width="0.6"/>
<polygon points="211.1,191.1 222.94,183.5 234.78,188.5 246.62,190.9 258.46,168.1 270.3,165.9 282.14,173.3 293.98,170.7 305.82,163.3 317.66,156.1 329.5,158.3 341.34,150.8 353.18,158.3 353.18,160.1 341.34,152.6 329.5,160.1 317.66,157.9 305.82,165.1 293.98,172.5 282.14,175.1 270.3,167.7 258.46,169.9 246.62,192.7 234.78,190.3 222.94,185.3 211.1,192.9" fill="#f3b488" fill-opacity="0.3" stroke="none"/>
<polyline points="211.1,192 222.94,184.4 234.78,189.4 246.62,191.8 258.46,169 270.3,166.8 282.14,174.2 293.98,171.6 305.82,164.2 317.66,157 329.5,159.2 341.34,151.7 353.18,159.2" fill="none" stroke="#e87a32" stroke-width="0.9" stroke-linejoin="round" opacity="1.0"/>
<rect x="210.3" y="191.2" width="1.6" height="1.6" fill="#e87a32"/>
<rect x="222.14" y="183.6" width="1.6" height="1.6" fill="#e87a32"/>
<rect x="233.98" y="188.6" width="1.6" height="1.6" fill="#e87a32"/>
<rect x="245.82" y="191" width="1.6" height="1.6" fill="#e87a32"/>
<rect x="257.66" y="168.2" width="1.6" height="1.6" fill="#e87a32"/>
<rect x="269.5" y="166" width="1.6" height="1.6" fill="#e87a32"/>
<rect x="281.34" y="173.4" width="1.6" height="1.6" fill="#e87a32"/>
<rect x="293.18" y="170.8" width="1.6" height="1.6" fill="#e87a32"/>
<rect x="305.02" y="163.4" width="1.6" height="1.6" fill="#e87a32"/>
<rect x="316.86" y="156.2" width="1.6" height="1.6" fill="#e87a32"/>
<rect x="328.7" y="158.4" width="1.6" height="1.6" fill="#e87a32"/>
<rect x="340.54" y="150.9" width="1.6" height="1.6" fill="#e87a32"/>
<rect x="352.38" y="158.4" width="1.6" height="1.6" fill="#e87a32"/>
<polygon points="211.1,175.5 222.94,177.9 234.78,178.1 246.62,173 258.46,170.6 270.3,158.3 282.14,165.7 293.98,165.7 305.82,162.9 317.66,155.9 329.5,155.7 341.34,155.7 353.18,165.7 353.18,167.5 341.34,157.5 329.5,157.5 317.66,157.7 305.82,164.7 293.98,167.5 282.14,167.5 270.3,160.1 258.46,172.4 246.62,174.8 234.78,179.9 222.94,179.7 211.1,177.3" fill="#a9c2ec" fill-opacity="0.3" stroke="none"/>
<polyline points="211.1,176.4 222.94,178.8 234.78,179 246.62,173.9 258.46,171.5 270.3,159.2 282.14,166.6 293.98,166.6 305.82,163.8 317.66,156.8 329.5,156.6 341.34,156.6 353.18,166.6" fill="none" stroke="#5b8bd8" stroke-width="0.9" stroke-linejoin="round" opacity="1.0"/>
<rect x="210.1" y="175.4" width="2" height="2" fill="#5b8bd8"/>
<rect x="221.94" y="177.8" width="2" height="2" fill="#5b8bd8"/>
<rect x="233.78" y="178" width="2" height="2" fill="#5b8bd8"/>
<rect x="245.62" y="172.9" width="2" height="2" fill="#5b8bd8"/>
<rect x="257.46" y="170.5" width="2" height="2" fill="#5b8bd8"/>
<rect x="269.3" y="158.2" width="2" height="2" fill="#5b8bd8"/>
<rect x="281.14" y="165.6" width="2" height="2" fill="#5b8bd8"/>
<rect x="292.98" y="165.6" width="2" height="2" fill="#5b8bd8"/>
<rect x="304.82" y="162.8" width="2" height="2" fill="#5b8bd8"/>
<rect x="316.66" y="155.8" width="2" height="2" fill="#5b8bd8"/>
<rect x="328.5" y="155.6" width="2" height="2" fill="#5b8bd8"/>
<rect x="340.34" y="155.6" width="2" height="2" fill="#5b8bd8"/>
<rect x="352.18" y="165.6" width="2" height="2" fill="#5b8bd8"/>
<polygon points="211.1,167.8 222.94,164.8 234.78,165.4 246.62,167.8 258.46,157 270.3,154.7 282.14,154.7 293.98,147.2 305.82,142.6 317.66,149.6 329.5,144.2 341.34,152.6 353.18,154.7 353.18,157.7 341.34,155.6 329.5,147.2 317.66,152.6 305.82,145.6 293.98,150.2 282.14,157.7 270.3,157.7 258.46,160 246.62,170.8 234.78,168.4 222.94,167.8 211.1,170.8" fill="#9fd07f" fill-opacity="0.35" stroke="none"/>
<polyline points="211.1,167.8 222.94,164.8 234.78,165.4 246.62,167.8 258.46,157 270.3,154.7 282.14,154.7 293.98,147.2 305.82,142.6 317.66,149.6 329.5,144.2 341.34,152.6 353.18,154.7" fill="none" stroke="#a8d48e" stroke-width="0.5" stroke-linejoin="round" opacity="1.0" stroke-dasharray="1,0.8"/>
<polyline points="211.1,170.8 222.94,167.8 234.78,168.4 246.62,170.8 258.46,160 270.3,157.7 282.14,157.7 293.98,150.2 305.82,145.6 317.66,152.6 329.5,147.2 341.34,155.6 353.18,157.7" fill="none" stroke="#a8d48e" stroke-width="0.5" stroke-linejoin="round" opacity="1.0" stroke-dasharray="1,0.8"/>
<polyline points="211.1,169.3 222.94,166.3 234.78,166.9 246.62,169.3 258.46,158.5 270.3,156.2 282.14,156.2 293.98,148.7 305.82,144.1 317.66,151.1 329.5,145.7 341.34,154.1 353.18,156.2" fill="none" stroke="#69aa4b" stroke-width="0.9" stroke-linejoin="round" opacity="1.0"/>
<rect x="210.3" y="168.5" width="1.6" height="1.6" fill="#69aa4b"/>
<rect x="222.14" y="165.5" width="1.6" height="1.6" fill="#69aa4b"/>
<rect x="233.98" y="166.1" width="1.6" height="1.6" fill="#69aa4b"/>
<rect x="245.82" y="168.5" width="1.6" height="1.6" fill="#69aa4b"/>
<rect x="257.66" y="157.7" width="1.6" height="1.6" fill="#69aa4b"/>
<rect x="269.5" y="155.4" width="1.6" height="1.6" fill="#69aa4b"/>
<rect x="281.34" y="155.4" width="1.6" height="1.6" fill="#69aa4b"/>
<rect x="293.18" y="147.9" width="1.6" height="1.6" fill="#69aa4b"/>
<rect x="305.02" y="143.3" width="1.6" height="1.6" fill="#69aa4b"/>
<rect x="316.86" y="150.3" width="1.6" height="1.6" fill="#69aa4b"/>
<rect x="328.7" y="144.9" width="1.6" height="1.6" fill="#69aa4b"/>
<rect x="340.54" y="153.3" width="1.6" height="1.6" fill="#69aa4b"/>
<rect x="352.38" y="155.4" width="1.6" height="1.6" fill="#69aa4b"/>
<circle cx="354.6" cy="150.6" r="0.72" fill="#6aa84a"/>
<circle cx="356.65" cy="150.6" r="0.72" fill="#6aa84a"/>
<circle cx="358.7" cy="150.6" r="0.72" fill="#6aa84a"/>
<text x="356.3" y="154.1" font-family="Liberation Sans" font-size="4.5" fill="#6aa84a" dominant-baseline="central" textLength="22.8" lengthAdjust="spacingAndGlyphs">paramedical</text>
<circle cx="354.6" cy="157.2" r="0.72" fill="#e87a32"/>
<circle cx="356.65" cy="157.2" r="0.72" fill="#e87a32"/>
<circle cx="358.7" cy="157.2" r="0.72" fill="#e87a32"/>
<text x="356.3" y="159.4" font-family="Liberation Sans" font-size="4.5" fill="#e87a32" dominant-baseline="central" textLength="26.3" lengthAdjust="spacingAndGlyphs">administrative</text>
<circle cx="354.6" cy="163.6" r="0.72" fill="#5b8bd8"/>
<circle cx="356.65" cy="163.6" r="0.72" fill="#5b8bd8"/>
<circle cx="358.7" cy="163.6" r="0.72" fill="#5b8bd8"/>
<text x="357.2" y="166.8" font-family="Liberation Sans" font-size="4.5" fill="#5b8bd8" dominant-baseline="central" textLength="16.6" lengthAdjust="spacingAndGlyphs">technical</text>
<text x="357.2" y="174.2" font-family="Liberation Sans" font-size="4.5" fill="#3a3a3a" dominant-baseline="central" textLength="14.1" lengthAdjust="spacingAndGlyphs">medical</text>
<line x1="13.7" y1="233" x2="13.7" y2="308.9" stroke="#eceef3" stroke-width="0.6"/>
<line x1="13.7" y1="308.9" x2="167.2" y2="308.9" stroke="#e3e6ec" stroke-width="0.7"/>
<text x="9.6" y="308.9" font-family="Liberation Sans" font-size="3.9" font-weight="normal" font-style="normal" fill="#3f4862" text-anchor="end" dominant-baseline="central">0</text>
<text x="9.6" y="298.16" font-family="Liberation Sans" font-size="3.9" font-weight="normal" font-style="normal" fill="#3f4862" text-anchor="end" dominant-baseline="central">10</text>
<text x="9.6" y="287.42" font-family="Liberation Sans" font-size="3.9" font-weight="normal" font-style="normal" fill="#3f4862" text-anchor="end" dominant-baseline="central">20</text>
<text x="9.6" y="276.68" font-family="Liberation Sans" font-size="3.9" font-weight="normal" font-style="normal" fill="#3f4862" text-anchor="end" dominant-baseline="central">30</text>
<text x="9.6" y="265.94" font-family="Liberation Sans" font-size="3.9" font-weight="normal" font-style="normal" fill="#3f4862" text-anchor="end" dominant-baseline="central">40</text>
<text x="9.6" y="255.2" font-family="Liberation Sans" font-size="3.9" font-weight="normal" font-style="normal" fill="#3f4862" text-anchor="end" dominant-baseline="central">50</text>
<text x="9.6" y="244.46" font-family="Liberation Sans" font-size="3.9" font-weight="normal" font-style="normal" fill="#3f4862" text-anchor="end" dominant-baseline="central">60</text>
<text x="9.6" y="233.72" font-family="Liberation Sans" font-size="3.9" font-weight="normal" font-style="normal" fill="#3f4862" text-anchor="end" dominant-baseline="central">70</text>
<text x="15.3" y="314.7" font-family="Liberation Sans" font-size="3.7" font-weight="bold" fill="#35405e" dominant-baseline="central" textLength="8.2" lengthAdjust="spacingAndGlyphs">2007</text>
<text x="38.74" y="314.7" font-family="Liberation Sans" font-size="3.7" font-weight="bold" fill="#35405e" dominant-baseline="central" textLength="8.2" lengthAdjust="spacingAndGlyphs">2009</text>
<text x="62.18" y="314.7" font-family="Liberation Sans" font-size="3.7" font-weight="bold" fill="#35405e" dominant-baseline="central" textLength="8.2" lengthAdjust="spacingAndGlyphs">2011</text>
<text x="85.62" y="314.7" font-family="Liberation Sans" font-size="3.7" font-weight="bold" fill="#35405e" dominant-baseline="central" textLength="8.2" lengthAdjust="spacingAndGlyphs">2013</text>
<text x="109.06" y="314.7" font-family="Liberation Sans" font-size="3.7" font-weight="bold" fill="#35405e" dominant-baseline="central" textLength="8.2" lengthAdjust="spacingAndGlyphs">2015</text>
<text x="132.5" y="314.7" font-family="Liberation Sans" font-size="3.7" font-weight="bold" fill="#35405e" dominant-baseline="central" textLength="8.2" lengthAdjust="spacingAndGlyphs">2017</text>
<text x="155.94" y="314.7" font-family="Liberation Sans" font-size="3.7" font-weight="bold" fill="#35405e" dominant-baseline="central" textLength="8.2" lengthAdjust="spacingAndGlyphs">2019</text>
<text x="2.4" y="226.7" font-family="Liberation Sans" font-size="4.9" fill="#333" stroke="#333" stroke-width="0.15" dominant-baseline="central" textLength="22.6" lengthAdjust="spacingAndGlyphs">% absents</text>
<polyline points="19,257.2 30.72,254.2 42.44,253.2 54.16,251.8 65.88,258.2 77.6,256.2 89.32,253.1 101.04,245.1 112.76,255.2 124.48,253.2 136.2,255.2 147.92,251.8 159.64,253.2" fill="none" stroke="#7a7a7a" stroke-width="0.9" stroke-linejoin="round" opacity="1.0"/>
<path d="M18.2,256.4L19.8,258M18.2,258L19.8,256.4" stroke="#7a7a7a" stroke-width="0.6"/>
<path d="M29.92,253.4L31.52,255M29.92,255L31.52,253.4" stroke="#7a7a7a" stroke-width="0.6"/>
<path d="M41.64,252.4L43.24,254M41.64,254L43.24,252.4" stroke="#7a7a7a" stroke-width="0.6"/>
<path d="M53.36,251L54.96,252.6M53.36,252.6L54.96,251" stroke="#7a7a7a" stroke-width="0.6"/>
<path d="M65.08,257.4L66.68,259M65.08,259L66.68,257.4" stroke="#7a7a7a" stroke-width="0.6"/>
<path d="M76.8,255.4L78.4,257M76.8,257L78.4,255.4" stroke="#7a7a7a" stroke-width="0.6"/>
<path d="M88.52,252.3L90.12,253.9M88.52,253.9L90.12,252.3" stroke="#7a7a7a" stroke-width="0.6"/>
<path d="M100.24,244.3L101.84,245.9M100.24,245.9L101.84,244.3" stroke="#7a7a7a" stroke-width="0.6"/>
<path d="M111.96,254.4L113.56,256M111.96,256L113.56,254.4" stroke="#7a7a7a" stroke-width="0.6"/>
<path d="M123.68,252.4L125.28,254M123.68,254L125.28,252.4" stroke="#7a7a7a" stroke-width="0.6"/>
<path d="M135.4,254.4L137,256M135.4,256L137,254.4" stroke="#7a7a7a" stroke-width="0.6"/>
<path d="M147.12,251L148.72,252.6M147.12,252.6L148.72,251" stroke="#7a7a7a" stroke-width="0.6"/>
<path d="M158.84,252.4L160.44,254M158.84,254L160.44,252.4" stroke="#7a7a7a" stroke-width="0.6"/>
<polyline points="19,255.2 30.72,249.6 42.44,249.6 54.16,247.8 65.88,255.2 77.6,252.7 89.32,249.5 101.04,251.7 112.76,250.7 124.48,249.3 136.2,248.3 147.92,247.2 159.64,247.2" fill="none" stroke="#5c9040" stroke-width="0.9" stroke-linejoin="round" opacity="1.0"/>
<rect x="18.2" y="254.4" width="1.6" height="1.6" fill="#5c9040"/>
<rect x="29.92" y="248.8" width="1.6" height="1.6" fill="#5c9040"/>
<rect x="41.64" y="248.8" width="1.6" height="1.6" fill="#5c9040"/>
<rect x="53.36" y="247" width="1.6" height="1.6" fill="#5c9040"/>
<rect x="65.08" y="254.4" width="1.6" height="1.6" fill="#5c9040"/>
<rect x="76.8" y="251.9" width="1.6" height="1.6" fill="#5c9040"/>
<rect x="88.52" y="248.7" width="1.6" height="1.6" fill="#5c9040"/>
<rect x="100.24" y="250.9" width="1.6" height="1.6" fill="#5c9040"/>
<rect x="111.96" y="249.9" width="1.6" height="1.6" fill="#5c9040"/>
<rect x="123.68" y="248.5" width="1.6" height="1.6" fill="#5c9040"/>
<rect x="135.4" y="247.5" width="1.6" height="1.6" fill="#5c9040"/>
<rect x="147.12" y="246.4" width="1.6" height="1.6" fill="#5c9040"/>
<rect x="158.84" y="246.4" width="1.6" height="1.6" fill="#5c9040"/>
<text x="162.3" y="247.2" font-family="Liberation Sans" font-size="4.5" fill="#6aa84a" dominant-baseline="central" textLength="38.2" lengthAdjust="spacingAndGlyphs">hosp. services/officer</text>
<text x="162.9" y="253.5" font-family="Liberation Sans" font-size="4.5" fill="#3a3a3a" dominant-baseline="central" textLength="26.1" lengthAdjust="spacingAndGlyphs">assistant nurse</text>
<line x1="211.2" y1="235" x2="211.2" y2="310.5" stroke="#eceef3" stroke-width="0.6"/>
<line x1="211.2" y1="310.5" x2="363.3" y2="310.5" stroke="#e3e6ec" stroke-width="0.7"/>
<text x="207.4" y="310.5" font-family="Liberation Sans" font-size="3.9" font-weight="normal" font-style="normal" fill="#3f4862" text-anchor="end" dominant-baseline="central">0</text>
<text x="207.4" y="299.8" font-family="Liberation Sans" font-size="3.9" font-weight="normal" font-style="normal" fill="#3f4862" text-anchor="end" dominant-baseline="central">5</text>
<text x="207.4" y="289.1" font-family="Liberation Sans" font-size="3.9" font-weight="normal" font-style="normal" fill="#3f4862" text-anchor="end" dominant-baseline="central">10</text>
<text x="207.4" y="278.4" font-family="Liberation Sans" font-size="3.9" font-weight="normal" font-style="normal" fill="#3f4862" text-anchor="end" dominant-baseline="central">15</text>
<text x="207.4" y="267.7" font-family="Liberation Sans" font-size="3.9" font-weight="normal" font-style="normal" fill="#3f4862" text-anchor="end" dominant-baseline="central">20</text>
<text x="207.4" y="257" font-family="Liberation Sans" font-size="3.9" font-weight="normal" font-style="normal" fill="#3f4862" text-anchor="end" dominant-baseline="central">25</text>
<text x="207.4" y="246.3" font-family="Liberation Sans" font-size="3.9" font-weight="normal" font-style="normal" fill="#3f4862" text-anchor="end" dominant-baseline="central">30</text>
<text x="207.4" y="235.6" font-family="Liberation Sans" font-size="3.9" font-weight="normal" font-style="normal" fill="#3f4862" text-anchor="end" dominant-baseline="central">35</text>
<text x="213.55" y="316.15" font-family="Liberation Sans" font-size="3.7" font-weight="bold" fill="#35405e" dominant-baseline="central" textLength="8.2" lengthAdjust="spacingAndGlyphs">2007</text>
<text x="236.91" y="316.15" font-family="Liberation Sans" font-size="3.7" font-weight="bold" fill="#35405e" dominant-baseline="central" textLength="8.2" lengthAdjust="spacingAndGlyphs">2009</text>
<text x="260.27" y="316.15" font-family="Liberation Sans" font-size="3.7" font-weight="bold" fill="#35405e" dominant-baseline="central" textLength="8.2" lengthAdjust="spacingAndGlyphs">2011</text>
<text x="283.63" y="316.15" font-family="Liberation Sans" font-size="3.7" font-weight="bold" fill="#35405e" dominant-baseline="central" textLength="8.2" lengthAdjust="spacingAndGlyphs">2013</text>
<text x="306.99" y="316.15" font-family="Liberation Sans" font-size="3.7" font-weight="bold" fill="#35405e" dominant-baseline="central" textLength="8.2" lengthAdjust="spacingAndGlyphs">2015</text>
<text x="330.35" y="316.15" font-family="Liberation Sans" font-size="3.7" font-weight="bold" fill="#35405e" dominant-baseline="central" textLength="8.2" lengthAdjust="spacingAndGlyphs">2017</text>
<text x="353.71" y="316.15" font-family="Liberation Sans" font-size="3.7" font-weight="bold" fill="#35405e" dominant-baseline="central" textLength="8.2" lengthAdjust="spacingAndGlyphs">2019</text>
<text x="192.2" y="230" font-family="Liberation Serif" font-size="5.5" fill="#2a2a2a" stroke="#2a2a2a" stroke-width="0.12" dominant-baseline="central" textLength="37.7" lengthAdjust="spacingAndGlyphs">n days/employee</text>
<polygon points="217.25,274.8 228.93,268.8 240.61,267.4 252.29,275.1 263.97,265.3 275.65,257.7 287.33,257.7 299.01,257.7 310.69,252.3 322.37,262.5 334.05,251 345.73,266.5 357.41,258.1 357.41,261.1 345.73,269.5 334.05,254 322.37,265.5 310.69,255.3 299.01,260.7 287.33,260.7 275.65,260.7 263.97,268.3 252.29,278.1 240.61,270.4 228.93,271.8 217.25,277.8" fill="#a8a8a8" fill-opacity="0.25" stroke="none"/>
<polyline points="217.25,274.8 228.93,268.8 240.61,267.4 252.29,275.1 263.97,265.3 275.65,257.7 287.33,257.7 299.01,257.7 310.69,252.3 322.37,262.5 334.05,251 345.73,266.5 357.41,258.1" fill="none" stroke="#b8b8b8" stroke-width="0.5" stroke-linejoin="round" opacity="1.0" stroke-dasharray="1,0.8"/>
<polyline points="217.25,277.8 228.93,271.8 240.61,270.4 252.29,278.1 263.97,268.3 275.65,260.7 287.33,260.7 299.01,260.7 310.69,255.3 322.37,265.5 334.05,254 345.73,269.5 357.41,261.1" fill="none" stroke="#b8b8b8" stroke-width="0.5" stroke-linejoin="round" opacity="1.0" stroke-dasharray="1,0.8"/>
<polyline points="217.25,276.3 228.93,270.3 240.61,268.9 252.29,276.6 263.97,266.8 275.65,259.2 287.33,259.2 299.01,259.2 310.69,253.8 322.37,264 334.05,252.5 345.73,268 357.41,259.6" fill="none" stroke="#7a7a7a" stroke-width="0.9" stroke-linejoin="round" opacity="1.0"/>
<path d="M216.45,275.5L218.05,277.1M216.45,277.1L218.05,275.5" stroke="#7a7a7a" stroke-width="0.6"/>
<path d="M228.13,269.5L229.73,271.1M228.13,271.1L229.73,269.5" stroke="#7a7a7a" stroke-width="0.6"/>
<path d="M239.81,268.1L241.41,269.7M239.81,269.7L241.41,268.1" stroke="#7a7a7a" stroke-width="0.6"/>
<path d="M251.49,275.8L253.09,277.4M251.49,277.4L253.09,275.8" stroke="#7a7a7a" stroke-width="0.6"/>
<path d="M263.17,266L264.77,267.6M263.17,267.6L264.77,266" stroke="#7a7a7a" stroke-width="0.6"/>
<path d="M274.85,258.4L276.45,260M274.85,260L276.45,258.4" stroke="#7a7a7a" stroke-width="0.6"/>
<path d="M286.53,258.4L288.13,260M286.53,260L288.13,258.4" stroke="#7a7a7a" stroke-width="0.6"/>
<path d="M298.21,258.4L299.81,260M298.21,260L299.81,258.4" stroke="#7a7a7a" stroke-width="0.6"/>
<path d="M309.89,253L311.49,254.6M309.89,254.6L311.49,253" stroke="#7a7a7a" stroke-width="0.6"/>
<path d="M321.57,263.2L323.17,264.8M321.57,264.8L323.17,263.2" stroke="#7a7a7a" stroke-width="0.6"/>
<path d="M333.25,251.7L334.85,253.3M333.25,253.3L334.85,251.7" stroke="#7a7a7a" stroke-width="0.6"/>
<path d="M344.93,267.2L346.53,268.8M344.93,268.8L346.53,267.2" stroke="#7a7a7a" stroke-width="0.6"/>
<path d="M356.61,258.8L358.21,260.4M356.61,260.4L358.21,258.8" stroke="#7a7a7a" stroke-width="0.6"/>
<polygon points="217.25,277.7 228.93,261.7 240.61,266.2 252.29,258.7 263.97,260.7 275.65,265.3 287.33,252.2 299.01,244.2 310.69,250.9 322.37,255.4 334.05,259.2 345.73,257 357.41,256 357.41,262 345.73,263 334.05,264.7 322.37,258.9 310.69,253.9 299.01,247.2 287.33,256.2 275.65,269.3 263.97,264.7 252.29,262.7 240.61,269.2 228.93,264.7 217.25,280.1" fill="#8fc46e" fill-opacity="0.35" stroke="none"/>
<polyline points="217.25,277.7 228.93,261.7 240.61,266.2 252.29,258.7 263.97,260.7 275.65,265.3 287.33,252.2 299.01,244.2 310.69,250.9 322.37,255.4 334.05,259.2 345.73,257 357.41,256" fill="none" stroke="#9ccc80" stroke-width="0.5" stroke-linejoin="round" opacity="1.0" stroke-dasharray="1,0.8"/>
<polyline points="217.25,280.1 228.93,264.7 240.61,269.2 252.29,262.7 263.97,264.7 275.65,269.3 287.33,256.2 299.01,247.2 310.69,253.9 322.37,258.9 334.05,264.7 345.73,263 357.41,262" fill="none" stroke="#9ccc80" stroke-width="0.5" stroke-linejoin="round" opacity="1.0" stroke-dasharray="1,0.8"/>
<polyline points="217.25,278.9 228.93,263.2 240.61,267.7 252.29,261.2 263.97,263.2 275.65,267.8 287.33,254.7 299.01,245.7 310.69,252.4 322.37,257.4 334.05,263.2 345.73,261 357.41,260" fill="none" stroke="#69aa4b" stroke-width="0.9" stroke-linejoin="round" opacity="1.0"/>
<rect x="216.45" y="278.1" width="1.6" height="1.6" fill="#69aa4b"/>
<rect x="228.13" y="262.4" width="1.6" height="1.6" fill="#69aa4b"/>
<rect x="239.81" y="266.9" width="1.6" height="1.6" fill="#69aa4b"/>
<rect x="251.49" y="260.4" width="1.6" height="1.6" fill="#69aa4b"/>
<rect x="263.17" y="262.4" width="1.6" height="1.6" fill="#69aa4b"/>
<rect x="274.85" y="267" width="1.6" height="1.6" fill="#69aa4b"/>
<rect x="286.53" y="253.9" width="1.6" height="1.6" fill="#69aa4b"/>
<rect x="298.21" y="244.9" width="1.6" height="1.6" fill="#69aa4b"/>
<rect x="309.89" y="251.6" width="1.6" height="1.6" fill="#69aa4b"/>
<rect x="321.57" y="256.6" width="1.6" height="1.6" fill="#69aa4b"/>
<rect x="333.25" y="262.4" width="1.6" height="1.6" fill="#69aa4b"/>
<rect x="344.93" y="260.2" width="1.6" height="1.6" fill="#69aa4b"/>
<rect x="356.61" y="259.2" width="1.6" height="1.6" fill="#69aa4b"/>
<circle cx="359.6" cy="255.3" r="0.72" fill="#3a3a3a"/>
<circle cx="361.65" cy="255.3" r="0.72" fill="#3a3a3a"/>
<circle cx="363.7" cy="255.3" r="0.72" fill="#3a3a3a"/>
<text x="360.9" y="257.3" font-family="Liberation Sans" font-size="4.5" fill="#3a3a3a" dominant-baseline="central" textLength="25.9" lengthAdjust="spacingAndGlyphs">assistant nurse</text>
<circle cx="359.6" cy="260.2" r="0.72" fill="#6aa84a"/>
<circle cx="361.65" cy="260.2" r="0.72" fill="#6aa84a"/>
<circle cx="363.7" cy="260.2" r="0.72" fill="#6aa84a"/>
<text x="360.9" y="262.2" font-family="Liberation Sans" font-size="4.5" fill="#6aa84a" dominant-baseline="central" textLength="37.6" lengthAdjust="spacingAndGlyphs">hosp. services officer</text>
<line x1="14.5" y1="338" x2="14.5" y2="415.9" stroke="#eceef3" stroke-width="0.6"/>
<line x1="14.5" y1="415.9" x2="168.2" y2="415.9" stroke="#e3e6ec" stroke-width="0.7"/>
<text x="9.6" y="415.9" font-family="Liberation Sans" font-size="3.9" font-weight="normal" font-style="normal" fill="#3f4862" text-anchor="end" dominant-baseline="central">0</text>
<text x="9.6" y="403.1" font-family="Liberation Sans" font-size="3.9" font-weight="normal" font-style="normal" fill="#3f4862" text-anchor="end" dominant-baseline="central">10</text>
<text x="9.6" y="390.3" font-family="Liberation Sans" font-size="3.9" font-weight="normal" font-style="normal" fill="#3f4862" text-anchor="end" dominant-baseline="central">20</text>
<text x="9.6" y="377.5" font-family="Liberation Sans" font-size="3.9" font-weight="normal" font-style="normal" fill="#3f4862" text-anchor="end" dominant-baseline="central">30</text>
<text x="9.6" y="364.7" font-family="Liberation Sans" font-size="3.9" font-weight="normal" font-style="normal" fill="#3f4862" text-anchor="end" dominant-baseline="central">40</text>
<text x="9.6" y="351.9" font-family="Liberation Sans" font-size="3.9" font-weight="normal" font-style="normal" fill="#3f4862" text-anchor="end" dominant-baseline="central">50</text>
<text x="9.6" y="339.1" font-family="Liberation Sans" font-size="3.9" font-weight="normal" font-style="normal" fill="#3f4862" text-anchor="end" dominant-baseline="central">60</text>
<text x="16.05" y="421.6" font-family="Liberation Sans" font-size="3.7" font-weight="bold" fill="#35405e" dominant-baseline="central" textLength="8.2" lengthAdjust="spacingAndGlyphs">2007</text>
<text x="39.79" y="421.6" font-family="Liberation Sans" font-size="3.7" font-weight="bold" fill="#35405e" dominant-baseline="central" textLength="8.2" lengthAdjust="spacingAndGlyphs">2009</text>
<text x="63.53" y="421.6" font-family="Liberation Sans" font-size="3.7" font-weight="bold" fill="#35405e" dominant-baseline="central" textLength="8.2" lengthAdjust="spacingAndGlyphs">2011</text>
<text x="87.27" y="421.6" font-family="Liberation Sans" font-size="3.7" font-weight="bold" fill="#35405e" dominant-baseline="central" textLength="8.2" lengthAdjust="spacingAndGlyphs">2013</text>
<text x="111.01" y="421.6" font-family="Liberation Sans" font-size="3.7" font-weight="bold" fill="#35405e" dominant-baseline="central" textLength="8.2" lengthAdjust="spacingAndGlyphs">2015</text>
<text x="134.75" y="421.6" font-family="Liberation Sans" font-size="3.7" font-weight="bold" fill="#35405e" dominant-baseline="central" textLength="8.2" lengthAdjust="spacingAndGlyphs">2017</text>
<text x="158.49" y="421.6" font-family="Liberation Sans" font-size="3.7" font-weight="bold" fill="#35405e" dominant-baseline="central" textLength="8.2" lengthAdjust="spacingAndGlyphs">2019</text>
<text x="2.4" y="331.7" font-family="Liberation Sans" font-size="4.9" fill="#333" stroke="#333" stroke-width="0.15" dominant-baseline="central" textLength="22.6" lengthAdjust="spacingAndGlyphs">% absents</text>
<polyline points="19.75,358.2 31.62,356.2 43.49,348.2 55.36,344.5 67.23,362.2 79.1,362.4 90.97,358.5 102.84,360.2 114.71,361.2 126.58,359.7 138.45,358.2 150.32,356.8 162.19,355.6" fill="none" stroke="#7a7a7a" stroke-width="0.9" stroke-linejoin="round" opacity="1.0"/>
<path d="M18.95,357.4L20.55,359M18.95,359L20.55,357.4" stroke="#7a7a7a" stroke-width="0.6"/>
<path d="M30.82,355.4L32.42,357M30.82,357L32.42,355.4" stroke="#7a7a7a" stroke-width="0.6"/>
<path d="M42.69,347.4L44.29,349M42.69,349L44.29,347.4" stroke="#7a7a7a" stroke-width="0.6"/>
<path d="M54.56,343.7L56.16,345.3M54.56,345.3L56.16,343.7" stroke="#7a7a7a" stroke-width="0.6"/>
<path d="M66.43,361.4L68.03,363M66.43,363L68.03,361.4" stroke="#7a7a7a" stroke-width="0.6"/>
<path d="M78.3,361.6L79.9,363.2M78.3,363.2L79.9,361.6" stroke="#7a7a7a" stroke-width="0.6"/>
<path d="M90.17,357.7L91.77,359.3M90.17,359.3L91.77,357.7" stroke="#7a7a7a" stroke-width="0.6"/>
<path d="M102.04,359.4L103.64,361M102.04,361L103.64,359.4" stroke="#7a7a7a" stroke-width="0.6"/>
<path d="M113.91,360.4L115.51,362M113.91,362L115.51,360.4" stroke="#7a7a7a" stroke-width="0.6"/>
<path d="M125.78,358.9L127.38,360.5M125.78,360.5L127.38,358.9" stroke="#7a7a7a" stroke-width="0.6"/>
<path d="M137.65,357.4L139.25,359M137.65,359L139.25,357.4" stroke="#7a7a7a" stroke-width="0.6"/>
<path d="M149.52,356L151.12,357.6M149.52,357.6L151.12,356" stroke="#7a7a7a" stroke-width="0.6"/>
<path d="M161.39,354.8L162.99,356.4M161.39,356.4L162.99,354.8" stroke="#7a7a7a" stroke-width="0.6"/>
<polyline points="19.75,363.2 31.62,377.7 43.49,371.3 55.36,376.3 67.23,376.5 79.1,371.2 90.97,376.6 102.84,376.6 114.71,375.2 126.58,373.8 138.45,366.2 150.32,374.9 162.19,358.2" fill="none" stroke="#5c9040" stroke-width="0.9" stroke-linejoin="round" opacity="1.0"/>
<rect x="18.95" y="362.4" width="1.6" height="1.6" fill="#5c9040"/>
<rect x="30.82" y="376.9" width="1.6" height="1.6" fill="#5c9040"/>
<rect x="42.69" y="370.5" width="1.6" height="1.6" fill="#5c9040"/>
<rect x="54.56" y="375.5" width="1.6" height="1.6" fill="#5c9040"/>
<rect x="66.43" y="375.7" width="1.6" height="1.6" fill="#5c9040"/>
<rect x="78.3" y="370.4" width="1.6" height="1.6" fill="#5c9040"/>
<rect x="90.17" y="375.8" width="1.6" height="1.6" fill="#5c9040"/>
<rect x="102.04" y="375.8" width="1.6" height="1.6" fill="#5c9040"/>
<rect x="113.91" y="374.4" width="1.6" height="1.6" fill="#5c9040"/>
<rect x="125.78" y="373" width="1.6" height="1.6" fill="#5c9040"/>
<rect x="137.65" y="365.4" width="1.6" height="1.6" fill="#5c9040"/>
<rect x="149.52" y="374.1" width="1.6" height="1.6" fill="#5c9040"/>
<rect x="161.39" y="357.4" width="1.6" height="1.6" fill="#5c9040"/>
<text x="166.2" y="354.6" font-family="Liberation Sans" font-size="4.5" fill="#3a3a3a" dominant-baseline="central" textLength="12.1" lengthAdjust="spacingAndGlyphs">titular</text>
<text x="166.2" y="358.6" font-family="Liberation Sans" font-size="4.5" fill="#6aa84a" dominant-baseline="central" textLength="20.1" lengthAdjust="spacingAndGlyphs">non-titular</text>
<line x1="212.2" y1="341" x2="212.2" y2="417.1" stroke="#eceef3" stroke-width="0.6"/>
<line x1="212.2" y1="417.1" x2="371.9" y2="417.1" stroke="#e3e6ec" stroke-width="0.7"/>
<text x="207.6" y="417.1" font-family="Liberation Sans" font-size="3.9" font-weight="normal" font-style="normal" fill="#3f4862" text-anchor="end" dominant-baseline="central">0</text>
<text x="207.6" y="404.6" font-family="Liberation Sans" font-size="3.9" font-weight="normal" font-style="normal" fill="#3f4862" text-anchor="end" dominant-baseline="central">5</text>
<text x="207.6" y="392.1" font-family="Liberation Sans" font-size="3.9" font-weight="normal" font-style="normal" fill="#3f4862" text-anchor="end" dominant-baseline="central">10</text>
<text x="207.6" y="379.6" font-family="Liberation Sans" font-size="3.9" font-weight="normal" font-style="normal" fill="#3f4862" text-anchor="end" dominant-baseline="central">15</text>
<text x="207.6" y="367.1" font-family="Liberation Sans" font-size="3.9" font-weight="normal" font-style="normal" fill="#3f4862" text-anchor="end" dominant-baseline="central">20</text>
<text x="207.6" y="354.6" font-family="Liberation Sans" font-size="3.9" font-weight="normal" font-style="normal" fill="#3f4862" text-anchor="end" dominant-baseline="central">25</text>
<text x="207.6" y="342.1" font-family="Liberation Sans" font-size="3.9" font-weight="normal" font-style="normal" fill="#3f4862" text-anchor="end" dominant-baseline="central">30</text>
<text x="214.25" y="422.7" font-family="Liberation Sans" font-size="3.7" font-weight="bold" fill="#35405e" dominant-baseline="central" textLength="8.2" lengthAdjust="spacingAndGlyphs">2007</text>
<text x="238.77" y="422.7" font-family="Liberation Sans" font-size="3.7" font-weight="bold" fill="#35405e" dominant-baseline="central" textLength="8.2" lengthAdjust="spacingAndGlyphs">2009</text>
<text x="263.29" y="422.7" font-family="Liberation Sans" font-size="3.7" font-weight="bold" fill="#35405e" dominant-baseline="central" textLength="8.2" lengthAdjust="spacingAndGlyphs">2011</text>
<text x="287.81" y="422.7" font-family="Liberation Sans" font-size="3.7" font-weight="bold" fill="#35405e" dominant-baseline="central" textLength="8.2" lengthAdjust="spacingAndGlyphs">2013</text>
<text x="312.33" y="422.7" font-family="Liberation Sans" font-size="3.7" font-weight="bold" fill="#35405e" dominant-baseline="central" textLength="8.2" lengthAdjust="spacingAndGlyphs">2015</text>
<text x="336.85" y="422.7" font-family="Liberation Sans" font-size="3.7" font-weight="bold" fill="#35405e" dominant-baseline="central" textLength="8.2" lengthAdjust="spacingAndGlyphs">2017</text>
<text x="361.37" y="422.7" font-family="Liberation Sans" font-size="3.7" font-weight="bold" fill="#35405e" dominant-baseline="central" textLength="8.2" lengthAdjust="spacingAndGlyphs">2019</text>
<text x="193" y="335.8" font-family="Liberation Serif" font-size="5.5" fill="#2a2a2a" stroke="#2a2a2a" stroke-width="0.12" dominant-baseline="central" textLength="36.8" lengthAdjust="spacingAndGlyphs">n days/employee</text>
<polygon points="217.95,384.9 230.21,377.9 242.47,384.5 254.73,385.8 266.99,367 279.25,362.4 291.51,368.4 303.77,360 316.03,349 328.29,348.8 340.55,346.5 352.81,357.5 365.07,355 365.07,359 352.81,361.9 340.55,353.5 328.29,354.8 316.03,353 303.77,363.6 291.51,372 279.25,366 266.99,370.6 254.73,389.4 242.47,388.1 230.21,381.5 217.95,388.5" fill="#b5b5b5" fill-opacity="0.5" stroke="none"/>
<polyline points="217.95,384.9 230.21,377.9 242.47,384.5 254.73,385.8 266.99,367 279.25,362.4 291.51,368.4 303.77,360 316.03,349 328.29,348.8 340.55,346.5 352.81,357.5 365.07,355" fill="none" stroke="#a8a8a8" stroke-width="0.5" stroke-linejoin="round" opacity="1.0" stroke-dasharray="1,0.8"/>
<polyline points="217.95,388.5 230.21,381.5 242.47,388.1 254.73,389.4 266.99,370.6 279.25,366 291.51,372 303.77,363.6 316.03,353 328.29,354.8 340.55,353.5 352.81,361.9 365.07,359" fill="none" stroke="#a8a8a8" stroke-width="0.5" stroke-linejoin="round" opacity="1.0" stroke-dasharray="1,0.8"/>
<polyline points="217.95,386.7 230.21,379.7 242.47,386.3 254.73,387.6 266.99,368.8 279.25,364.2 291.51,370.2 303.77,361.8 316.03,351 328.29,351.8 340.55,350 352.81,359.7 365.07,357" fill="none" stroke="#7a7a7a" stroke-width="0.9" stroke-linejoin="round" opacity="1.0"/>
<path d="M217.15,385.9L218.75,387.5M217.15,387.5L218.75,385.9" stroke="#7a7a7a" stroke-width="0.6"/>
<path d="M229.41,378.9L231.01,380.5M229.41,380.5L231.01,378.9" stroke="#7a7a7a" stroke-width="0.6"/>
<path d="M241.67,385.5L243.27,387.1M241.67,387.1L243.27,385.5" stroke="#7a7a7a" stroke-width="0.6"/>
<path d="M253.93,386.8L255.53,388.4M253.93,388.4L255.53,386.8" stroke="#7a7a7a" stroke-width="0.6"/>
<path d="M266.19,368L267.79,369.6M266.19,369.6L267.79,368" stroke="#7a7a7a" stroke-width="0.6"/>
<path d="M278.45,363.4L280.05,365M278.45,365L280.05,363.4" stroke="#7a7a7a" stroke-width="0.6"/>
<path d="M290.71,369.4L292.31,371M290.71,371L292.31,369.4" stroke="#7a7a7a" stroke-width="0.6"/>
<path d="M302.97,361L304.57,362.6M302.97,362.6L304.57,361" stroke="#7a7a7a" stroke-width="0.6"/>
<path d="M315.23,350.2L316.83,351.8M315.23,351.8L316.83,350.2" stroke="#7a7a7a" stroke-width="0.6"/>
<path d="M327.49,351L329.09,352.6M327.49,352.6L329.09,351" stroke="#7a7a7a" stroke-width="0.6"/>
<path d="M339.75,349.2L341.35,350.8M339.75,350.8L341.35,349.2" stroke="#7a7a7a" stroke-width="0.6"/>
<path d="M352.01,358.9L353.61,360.5M352.01,360.5L353.61,358.9" stroke="#7a7a7a" stroke-width="0.6"/>
<path d="M364.27,356.2L365.87,357.8M364.27,357.8L365.87,356.2" stroke="#7a7a7a" stroke-width="0.6"/>
<polygon points="217.95,395.5 230.21,395.5 242.47,395.1 254.73,393.2 266.99,385.2 279.25,398.2 291.51,392.4 303.77,392.8 316.03,403.1 328.29,394.8 340.55,391.2 352.81,392.4 365.07,405.9 365.07,408.9 352.81,395.4 340.55,394.2 328.29,397.8 316.03,406.1 303.77,395.8 291.51,395.4 279.25,401.2 266.99,388.2 254.73,396.2 242.47,398.1 230.21,398.5 217.95,398.5" fill="#9fd07f" fill-opacity="0.35" stroke="none"/>
<polyline points="217.95,395.5 230.21,395.5 242.47,395.1 254.73,393.2 266.99,385.2 279.25,398.2 291.51,392.4 303.77,392.8 316.03,403.1 328.29,394.8 340.55,391.2 352.81,392.4 365.07,405.9" fill="none" stroke="#a8d48e" stroke-width="0.5" stroke-linejoin="round" opacity="1.0" stroke-dasharray="1,0.8"/>
<polyline points="217.95,398.5 230.21,398.5 242.47,398.1 254.73,396.2 266.99,388.2 279.25,401.2 291.51,395.4 303.77,395.8 316.03,406.1 328.29,397.8 340.55,394.2 352.81,395.4 365.07,408.9" fill="none" stroke="#a8d48e" stroke-width="0.5" stroke-linejoin="round" opacity="1.0" stroke-dasharray="1,0.8"/>
<polyline points="217.95,397 230.21,397 242.47,396.6 254.73,394.7 266.99,386.7 279.25,399.7 291.51,393.9 303.77,394.3 316.03,404.6 328.29,396.3 340.55,392.7 352.81,393.9 365.07,407.4" fill="none" stroke="#69aa4b" stroke-width="0.9" stroke-linejoin="round" opacity="1.0"/>
<rect x="217.15" y="396.2" width="1.6" height="1.6" fill="#69aa4b"/>
<rect x="229.41" y="396.2" width="1.6" height="1.6" fill="#69aa4b"/>
<rect x="241.67" y="395.8" width="1.6" height="1.6" fill="#69aa4b"/>
<rect x="253.93" y="393.9" width="1.6" height="1.6" fill="#69aa4b"/>
<rect x="266.19" y="385.9" width="1.6" height="1.6" fill="#69aa4b"/>
<rect x="278.45" y="398.9" width="1.6" height="1.6" fill="#69aa4b"/>
<rect x="290.71" y="393.1" width="1.6" height="1.6" fill="#69aa4b"/>
<rect x="302.97" y="393.5" width="1.6" height="1.6" fill="#69aa4b"/>
<rect x="315.23" y="403.8" width="1.6" height="1.6" fill="#69aa4b"/>
<rect x="327.49" y="395.5" width="1.6" height="1.6" fill="#69aa4b"/>
<rect x="339.75" y="391.9" width="1.6" height="1.6" fill="#69aa4b"/>
<rect x="352.01" y="393.1" width="1.6" height="1.6" fill="#69aa4b"/>
<rect x="364.27" y="406.6" width="1.6" height="1.6" fill="#69aa4b"/>
<circle cx="369.1" cy="354.1" r="0.72" fill="#3a3a3a"/>
<circle cx="371.15" cy="354.1" r="0.72" fill="#3a3a3a"/>
<circle cx="373.2" cy="354.1" r="0.72" fill="#3a3a3a"/>
<text x="368.7" y="357.1" font-family="Liberation Sans" font-size="4.5" fill="#3a3a3a" dominant-baseline="central" textLength="11.7" lengthAdjust="spacingAndGlyphs">titular</text>
<text x="369.3" y="407.4" font-family="Liberation Sans" font-size="4.5" fill="#6aa84a" dominant-baseline="central" textLength="19.1" lengthAdjust="spacingAndGlyphs">non-titular</text>
<line x1="15.7" y1="447" x2="15.7" y2="522.5" stroke="#eceef3" stroke-width="0.6"/>
<line x1="15.7" y1="522.5" x2="169.8" y2="522.5" stroke="#e3e6ec" stroke-width="0.7"/>
<text x="10.4" y="522.5" font-family="Liberation Sans" font-size="3.9" font-weight="normal" font-style="normal" fill="#3f4862" text-anchor="end" dominant-baseline="central">0</text>
<text x="10.4" y="510.04" font-family="Liberation Sans" font-size="3.9" font-weight="normal" font-style="normal" fill="#3f4862" text-anchor="end" dominant-baseline="central">10</text>
<text x="10.4" y="497.58" font-family="Liberation Sans" font-size="3.9" font-weight="normal" font-style="normal" fill="#3f4862" text-anchor="end" dominant-baseline="central">20</text>
<text x="10.4" y="485.12" font-family="Liberation Sans" font-size="3.9" font-weight="normal" font-style="normal" fill="#3f4862" text-anchor="end" dominant-baseline="central">30</text>
<text x="10.4" y="472.66" font-family="Liberation Sans" font-size="3.9" font-weight="normal" font-style="normal" fill="#3f4862" text-anchor="end" dominant-baseline="central">40</text>
<text x="10.4" y="460.2" font-family="Liberation Sans" font-size="3.9" font-weight="normal" font-style="normal" fill="#3f4862" text-anchor="end" dominant-baseline="central">50</text>
<text x="10.4" y="447.74" font-family="Liberation Sans" font-size="3.9" font-weight="normal" font-style="normal" fill="#3f4862" text-anchor="end" dominant-baseline="central">60</text>
<text x="17.8" y="527.7" font-family="Liberation Sans" font-size="3.7" font-weight="bold" fill="#35405e" dominant-baseline="central" textLength="8.2" lengthAdjust="spacingAndGlyphs">2007</text>
<text x="41.52" y="527.7" font-family="Liberation Sans" font-size="3.7" font-weight="bold" fill="#35405e" dominant-baseline="central" textLength="8.2" lengthAdjust="spacingAndGlyphs">2009</text>
<text x="65.24" y="527.7" font-family="Liberation Sans" font-size="3.7" font-weight="bold" fill="#35405e" dominant-baseline="central" textLength="8.2" lengthAdjust="spacingAndGlyphs">2011</text>
<text x="88.96" y="527.7" font-family="Liberation Sans" font-size="3.7" font-weight="bold" fill="#35405e" dominant-baseline="central" textLength="8.2" lengthAdjust="spacingAndGlyphs">2013</text>
<text x="112.68" y="527.7" font-family="Liberation Sans" font-size="3.7" font-weight="bold" fill="#35405e" dominant-baseline="central" textLength="8.2" lengthAdjust="spacingAndGlyphs">2015</text>
<text x="136.4" y="527.7" font-family="Liberation Sans" font-size="3.7" font-weight="bold" fill="#35405e" dominant-baseline="central" textLength="8.2" lengthAdjust="spacingAndGlyphs">2017</text>
<text x="160.12" y="527.7" font-family="Liberation Sans" font-size="3.7" font-weight="bold" fill="#35405e" dominant-baseline="central" textLength="8.2" lengthAdjust="spacingAndGlyphs">2019</text>
<text x="3" y="440.7" font-family="Liberation Sans" font-size="4.9" fill="#333" stroke="#333" stroke-width="0.15" dominant-baseline="central" textLength="22.6" lengthAdjust="spacingAndGlyphs">% absents</text>
<polyline points="21.5,465.2 33.36,469.8 45.22,459.6 57.08,463.6 68.94,478.6 80.8,476.2 92.66,472.2 104.52,476.2 116.38,476.2 128.24,476.2 140.1,471.2 151.96,472.6 163.82,466.2" fill="none" stroke="#7a7a7a" stroke-width="0.9" stroke-linejoin="round" opacity="1.0"/>
<path d="M20.7,464.4L22.3,466M20.7,466L22.3,464.4" stroke="#7a7a7a" stroke-width="0.6"/>
<path d="M32.56,469L34.16,470.6M32.56,470.6L34.16,469" stroke="#7a7a7a" stroke-width="0.6"/>
<path d="M44.42,458.8L46.02,460.4M44.42,460.4L46.02,458.8" stroke="#7a7a7a" stroke-width="0.6"/>
<path d="M56.28,462.8L57.88,464.4M56.28,464.4L57.88,462.8" stroke="#7a7a7a" stroke-width="0.6"/>
<path d="M68.14,477.8L69.74,479.4M68.14,479.4L69.74,477.8" stroke="#7a7a7a" stroke-width="0.6"/>
<path d="M80,475.4L81.6,477M80,477L81.6,475.4" stroke="#7a7a7a" stroke-width="0.6"/>
<path d="M91.86,471.4L93.46,473M91.86,473L93.46,471.4" stroke="#7a7a7a" stroke-width="0.6"/>
<path d="M103.72,475.4L105.32,477M103.72,477L105.32,475.4" stroke="#7a7a7a" stroke-width="0.6"/>
<path d="M115.58,475.4L117.18,477M115.58,477L117.18,475.4" stroke="#7a7a7a" stroke-width="0.6"/>
<path d="M127.44,475.4L129.04,477M127.44,477L129.04,475.4" stroke="#7a7a7a" stroke-width="0.6"/>
<path d="M139.3,470.4L140.9,472M139.3,472L140.9,470.4" stroke="#7a7a7a" stroke-width="0.6"/>
<path d="M151.16,471.8L152.76,473.4M151.16,473.4L152.76,471.8" stroke="#7a7a7a" stroke-width="0.6"/>
<path d="M163.02,465.4L164.62,467M163.02,467L164.62,465.4" stroke="#7a7a7a" stroke-width="0.6"/>
<polyline points="21.5,464.8 33.36,463.8 45.22,458.8 57.08,461.2 68.94,471.2 80.8,470.2 92.66,467.2 104.52,468.8 116.38,468.8 128.24,466.2 140.1,466.2 151.96,466.2 163.82,463.8" fill="none" stroke="#5c9040" stroke-width="0.9" stroke-linejoin="round" opacity="1.0"/>
<rect x="20.7" y="464" width="1.6" height="1.6" fill="#5c9040"/>
<rect x="32.56" y="463" width="1.6" height="1.6" fill="#5c9040"/>
<rect x="44.42" y="458" width="1.6" height="1.6" fill="#5c9040"/>
<rect x="56.28" y="460.4" width="1.6" height="1.6" fill="#5c9040"/>
<rect x="68.14" y="470.4" width="1.6" height="1.6" fill="#5c9040"/>
<rect x="80" y="469.4" width="1.6" height="1.6" fill="#5c9040"/>
<rect x="91.86" y="466.4" width="1.6" height="1.6" fill="#5c9040"/>
<rect x="103.72" y="468" width="1.6" height="1.6" fill="#5c9040"/>
<rect x="115.58" y="468" width="1.6" height="1.6" fill="#5c9040"/>
<rect x="127.44" y="465.4" width="1.6" height="1.6" fill="#5c9040"/>
<rect x="139.3" y="465.4" width="1.6" height="1.6" fill="#5c9040"/>
<rect x="151.16" y="465.4" width="1.6" height="1.6" fill="#5c9040"/>
<rect x="163.02" y="463" width="1.6" height="1.6" fill="#5c9040"/>
<text x="168.6" y="464.3" font-family="Liberation Sans" font-size="4.5" fill="#6aa84a" dominant-baseline="central" textLength="11.8" lengthAdjust="spacingAndGlyphs">&gt;12km</text>
<text x="168.6" y="468.9" font-family="Liberation Sans" font-size="4.5" fill="#3a3a3a" dominant-baseline="central" textLength="11.5" lengthAdjust="spacingAndGlyphs">&lt;12km</text>
<line x1="211.6" y1="449" x2="211.6" y2="523.5" stroke="#eceef3" stroke-width="0.6"/>
<line x1="211.6" y1="523.5" x2="379.5" y2="523.5" stroke="#e3e6ec" stroke-width="0.7"/>
<text x="208.1" y="523.5" font-family="Liberation Sans" font-size="3.9" font-weight="normal" font-style="normal" fill="#3f4862" text-anchor="end" dominant-baseline="central">0</text>
<text x="208.1" y="511.3" font-family="Liberation Sans" font-size="3.9" font-weight="normal" font-style="normal" fill="#3f4862" text-anchor="end" dominant-baseline="central">5</text>
<text x="208.1" y="499.1" font-family="Liberation Sans" font-size="3.9" font-weight="normal" font-style="normal" fill="#3f4862" text-anchor="end" dominant-baseline="central">10</text>
<text x="208.1" y="486.9" font-family="Liberation Sans" font-size="3.9" font-weight="normal" font-style="normal" fill="#3f4862" text-anchor="end" dominant-baseline="central">15</text>
<text x="208.1" y="474.7" font-family="Liberation Sans" font-size="3.9" font-weight="normal" font-style="normal" fill="#3f4862" text-anchor="end" dominant-baseline="central">20</text>
<text x="208.1" y="462.5" font-family="Liberation Sans" font-size="3.9" font-weight="normal" font-style="normal" fill="#3f4862" text-anchor="end" dominant-baseline="central">25</text>
<text x="208.1" y="450.3" font-family="Liberation Sans" font-size="3.9" font-weight="normal" font-style="normal" fill="#3f4862" text-anchor="end" dominant-baseline="central">30</text>
<text x="215.25" y="529" font-family="Liberation Sans" font-size="3.7" font-weight="bold" fill="#35405e" dominant-baseline="central" textLength="8.2" lengthAdjust="spacingAndGlyphs">2007</text>
<text x="240.85" y="529" font-family="Liberation Sans" font-size="3.7" font-weight="bold" fill="#35405e" dominant-baseline="central" textLength="8.2" lengthAdjust="spacingAndGlyphs">2009</text>
<text x="266.45" y="529" font-family="Liberation Sans" font-size="3.7" font-weight="bold" fill="#35405e" dominant-baseline="central" textLength="8.2" lengthAdjust="spacingAndGlyphs">2011</text>
<text x="292.05" y="529" font-family="Liberation Sans" font-size="3.7" font-weight="bold" fill="#35405e" dominant-baseline="central" textLength="8.2" lengthAdjust="spacingAndGlyphs">2013</text>
<text x="317.65" y="529" font-family="Liberation Sans" font-size="3.7" font-weight="bold" fill="#35405e" dominant-baseline="central" textLength="8.2" lengthAdjust="spacingAndGlyphs">2015</text>
<text x="343.25" y="529" font-family="Liberation Sans" font-size="3.7" font-weight="bold" fill="#35405e" dominant-baseline="central" textLength="8.2" lengthAdjust="spacingAndGlyphs">2017</text>
<text x="368.85" y="529" font-family="Liberation Sans" font-size="3.7" font-weight="bold" fill="#35405e" dominant-baseline="central" textLength="8.2" lengthAdjust="spacingAndGlyphs">2019</text>
<text x="193" y="444.3" font-family="Liberation Serif" font-size="5.5" fill="#2a2a2a" stroke="#2a2a2a" stroke-width="0.12" dominant-baseline="central" textLength="36.8" lengthAdjust="spacingAndGlyphs">n days/employee</text>
<polygon points="218.95,497.8 231.75,490.8 244.55,496.5 257.35,494.8 270.15,482.7 282.95,485.1 295.75,485.1 308.55,481.7 321.35,482.7 334.15,476.7 346.95,482.7 359.75,476.7 372.55,492.4 372.55,495.4 359.75,479.7 346.95,485.7 334.15,479.7 321.35,485.7 308.55,484.7 295.75,488.1 282.95,488.1 270.15,485.7 257.35,497.8 244.55,499.5 231.75,493.8 218.95,500.8" fill="#a8a8a8" fill-opacity="0.25" stroke="none"/>
<polyline points="218.95,497.8 231.75,490.8 244.55,496.5 257.35,494.8 270.15,482.7 282.95,485.1 295.75,485.1 308.55,481.7 321.35,482.7 334.15,476.7 346.95,482.7 359.75,476.7 372.55,492.4" fill="none" stroke="#b8b8b8" stroke-width="0.5" stroke-linejoin="round" opacity="1.0" stroke-dasharray="1,0.8"/>
<polyline points="218.95,500.8 231.75,493.8 244.55,499.5 257.35,497.8 270.15,485.7 282.95,488.1 295.75,488.1 308.55,484.7 321.35,485.7 334.15,479.7 346.95,485.7 359.75,479.7 372.55,495.4" fill="none" stroke="#b8b8b8" stroke-width="0.5" stroke-linejoin="round" opacity="1.0" stroke-dasharray="1,0.8"/>
<polyline points="218.95,499.3 231.75,492.3 244.55,498 257.35,496.3 270.15,484.2 282.95,486.6 295.75,486.6 308.55,483.2 321.35,484.2 334.15,478.2 346.95,484.2 359.75,478.2 372.55,493.9" fill="none" stroke="#7a7a7a" stroke-width="0.9" stroke-linejoin="round" opacity="1.0"/>
<path d="M218.15,498.5L219.75,500.1M218.15,500.1L219.75,498.5" stroke="#7a7a7a" stroke-width="0.6"/>
<path d="M230.95,491.5L232.55,493.1M230.95,493.1L232.55,491.5" stroke="#7a7a7a" stroke-width="0.6"/>
<path d="M243.75,497.2L245.35,498.8M243.75,498.8L245.35,497.2" stroke="#7a7a7a" stroke-width="0.6"/>
<path d="M256.55,495.5L258.15,497.1M256.55,497.1L258.15,495.5" stroke="#7a7a7a" stroke-width="0.6"/>
<path d="M269.35,483.4L270.95,485M269.35,485L270.95,483.4" stroke="#7a7a7a" stroke-width="0.6"/>
<path d="M282.15,485.8L283.75,487.4M282.15,487.4L283.75,485.8" stroke="#7a7a7a" stroke-width="0.6"/>
<path d="M294.95,485.8L296.55,487.4M294.95,487.4L296.55,485.8" stroke="#7a7a7a" stroke-width="0.6"/>
<path d="M307.75,482.4L309.35,484M307.75,484L309.35,482.4" stroke="#7a7a7a" stroke-width="0.6"/>
<path d="M320.55,483.4L322.15,485M320.55,485L322.15,483.4" stroke="#7a7a7a" stroke-width="0.6"/>
<path d="M333.35,477.4L334.95,479M333.35,479L334.95,477.4" stroke="#7a7a7a" stroke-width="0.6"/>
<path d="M346.15,483.4L347.75,485M346.15,485L347.75,483.4" stroke="#7a7a7a" stroke-width="0.6"/>
<path d="M358.95,477.4L360.55,479M358.95,479L360.55,477.4" stroke="#7a7a7a" stroke-width="0.6"/>
<path d="M371.75,493.1L373.35,494.7M371.75,494.7L373.35,493.1" stroke="#7a7a7a" stroke-width="0.6"/>
<polygon points="218.95,492.8 231.75,487.8 244.55,490.3 257.35,495.1 270.15,480.3 282.95,480.3 295.75,477.3 308.55,475.1 321.35,470.5 334.15,473.1 346.95,465 359.75,473.1 372.55,475.3 372.55,478.3 359.75,476.1 346.95,468 334.15,476.1 321.35,473.5 308.55,478.1 295.75,480.3 282.95,483.3 270.15,483.3 257.35,498.1 244.55,493.3 231.75,490.8 218.95,495.8" fill="#9fd07f" fill-opacity="0.35" stroke="none"/>
<polyline points="218.95,492.8 231.75,487.8 244.55,490.3 257.35,495.1 270.15,480.3 282.95,480.3 295.75,477.3 308.55,475.1 321.35,470.5 334.15,473.1 346.95,465 359.75,473.1 372.55,475.3" fill="none" stroke="#a8d48e" stroke-width="0.5" stroke-linejoin="round" opacity="1.0" stroke-dasharray="1,0.8"/>
<polyline points="218.95,495.8 231.75,490.8 244.55,493.3 257.35,498.1 270.15,483.3 282.95,483.3 295.75,480.3 308.55,478.1 321.35,473.5 334.15,476.1 346.95,468 359.75,476.1 372.55,478.3" fill="none" stroke="#a8d48e" stroke-width="0.5" stroke-linejoin="round" opacity="1.0" stroke-dasharray="1,0.8"/>
<polyline points="218.95,494.3 231.75,489.3 244.55,491.8 257.35,496.6 270.15,481.8 282.95,481.8 295.75,478.8 308.55,476.6 321.35,472 334.15,474.6 346.95,466.5 359.75,474.6 372.55,476.8" fill="none" stroke="#69aa4b" stroke-width="0.9" stroke-linejoin="round" opacity="1.0"/>
<rect x="218.15" y="493.5" width="1.6" height="1.6" fill="#69aa4b"/>
<rect x="230.95" y="488.5" width="1.6" height="1.6" fill="#69aa4b"/>
<rect x="243.75" y="491" width="1.6" height="1.6" fill="#69aa4b"/>
<rect x="256.55" y="495.8" width="1.6" height="1.6" fill="#69aa4b"/>
<rect x="269.35" y="481" width="1.6" height="1.6" fill="#69aa4b"/>
<rect x="282.15" y="481" width="1.6" height="1.6" fill="#69aa4b"/>
<rect x="294.95" y="478" width="1.6" height="1.6" fill="#69aa4b"/>
<rect x="307.75" y="475.8" width="1.6" height="1.6" fill="#69aa4b"/>
<rect x="320.55" y="471.2" width="1.6" height="1.6" fill="#69aa4b"/>
<rect x="333.35" y="473.8" width="1.6" height="1.6" fill="#69aa4b"/>
<rect x="346.15" y="465.7" width="1.6" height="1.6" fill="#69aa4b"/>
<rect x="358.95" y="473.8" width="1.6" height="1.6" fill="#69aa4b"/>
<rect x="371.75" y="476" width="1.6" height="1.6" fill="#69aa4b"/>
<circle cx="374.7" cy="474.6" r="0.72" fill="#6aa84a"/>
<circle cx="376.75" cy="474.6" r="0.72" fill="#6aa84a"/>
<circle cx="378.8" cy="474.6" r="0.72" fill="#6aa84a"/>
<text x="377.1" y="478.2" font-family="Liberation Sans" font-size="4.5" fill="#6aa84a" dominant-baseline="central" textLength="10.8" lengthAdjust="spacingAndGlyphs">&gt;12km</text>
<text x="376.6" y="494.7" font-family="Liberation Sans" font-size="4.5" fill="#3a3a3a" dominant-baseline="central" textLength="11.3" lengthAdjust="spacingAndGlyphs">&lt;12km</text>
<text x="158.7" y="540.3" font-family="Liberation Serif" font-size="10.8" fill="#111" stroke="#111" stroke-width="0.15" dominant-baseline="central" textLength="83.8" lengthAdjust="spacingAndGlyphs">*** pvalue &lt; 0.001</text>
</svg>
</body></html>
